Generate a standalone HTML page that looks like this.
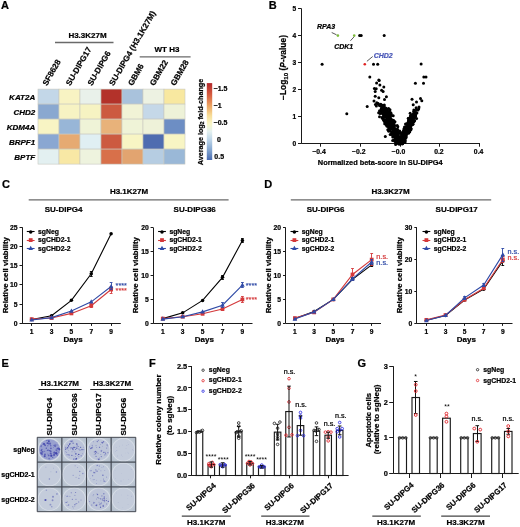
<!DOCTYPE html>
<html><head><meta charset="utf-8"><title>Figure</title>
<style>html,body{margin:0;padding:0;background:#fff;}svg{display:block;}</style></head>
<body><svg width="520" height="527" viewBox="0 0 520 527" font-family='"Liberation Sans", Arial, sans-serif' font-weight="bold"><style>text{stroke-width:0.22px;}</style>
<rect width="520" height="527" fill="#fff"/>
<text x="1" y="8.7" font-size="11" fill="#000" stroke="#000">A</text>
<text x="87.5" y="38.2" font-size="8" text-anchor="middle" fill="#000" stroke="#000">H3.3K27M</text>
<line x1="55" y1="42.5" x2="113.5" y2="42.5" stroke="#6a6a6a" stroke-width="1.3"/>
<text x="167" y="51.7" font-size="8" text-anchor="middle" fill="#000" stroke="#000">WT H3</text>
<line x1="139.7" y1="56.8" x2="190.6" y2="56.8" stroke="#6a6a6a" stroke-width="1.3"/>
<text x="46.9" y="86.2" font-size="8.1" fill="#000" stroke="#000" transform="rotate(-60 46.9 86.2)">SF8628</text>
<text x="70.3" y="86.2" font-size="8.1" fill="#000" stroke="#000" transform="rotate(-60 70.3 86.2)">SU-DIPG17</text>
<text x="91.9" y="86.2" font-size="8.1" fill="#000" stroke="#000" transform="rotate(-60 91.9 86.2)">SU-DIPG6</text>
<text x="113.6" y="86.2" font-size="8.1" fill="#000" stroke="#000" transform="rotate(-60 113.6 86.2)">SU-DIPG4 (H3.1K27M)</text>
<text x="132.4" y="86.2" font-size="8.1" fill="#000" stroke="#000" transform="rotate(-60 132.4 86.2)">GBM6</text>
<text x="154.3" y="86.2" font-size="8.1" fill="#000" stroke="#000" transform="rotate(-60 154.3 86.2)">GBM22</text>
<text x="175.1" y="86.2" font-size="8.1" fill="#000" stroke="#000" transform="rotate(-60 175.1 86.2)">GBM28</text>
<rect x="38" y="89.1" width="21" height="15" fill="#c3d7e8" stroke="#c8c8c0" stroke-width="0.6"/>
<rect x="59" y="89.1" width="21" height="15" fill="#f8f3c3" stroke="#c8c8c0" stroke-width="0.6"/>
<rect x="80" y="89.1" width="21" height="15" fill="#e9f1ea" stroke="#c8c8c0" stroke-width="0.6"/>
<rect x="101" y="89.1" width="21" height="15" fill="#b3322a" stroke="#c8c8c0" stroke-width="0.6"/>
<rect x="122" y="89.1" width="21" height="15" fill="#a9c2dc" stroke="#c8c8c0" stroke-width="0.6"/>
<rect x="143" y="89.1" width="21" height="15" fill="#edf2e2" stroke="#c8c8c0" stroke-width="0.6"/>
<rect x="164" y="89.1" width="21" height="15" fill="#f8e8a0" stroke="#c8c8c0" stroke-width="0.6"/>
<text x="35.2" y="99.5" font-size="8" text-anchor="end" font-style="italic" fill="#000" stroke="#000">KAT2A</text>
<rect x="38" y="104.1" width="21" height="15" fill="#8aa8d0" stroke="#c8c8c0" stroke-width="0.6"/>
<rect x="59" y="104.1" width="21" height="15" fill="#f7f3c3" stroke="#c8c8c0" stroke-width="0.6"/>
<rect x="80" y="104.1" width="21" height="15" fill="#f6f3c2" stroke="#c8c8c0" stroke-width="0.6"/>
<rect x="101" y="104.1" width="21" height="15" fill="#cc5a40" stroke="#c8c8c0" stroke-width="0.6"/>
<rect x="122" y="104.1" width="21" height="15" fill="#f1f3d6" stroke="#c8c8c0" stroke-width="0.6"/>
<rect x="143" y="104.1" width="21" height="15" fill="#c5d8e8" stroke="#c8c8c0" stroke-width="0.6"/>
<rect x="164" y="104.1" width="21" height="15" fill="#eef2d8" stroke="#c8c8c0" stroke-width="0.6"/>
<text x="35.2" y="114.5" font-size="8" text-anchor="end" font-style="italic" fill="#000" stroke="#000">CHD2</text>
<rect x="38" y="119.1" width="21" height="15" fill="#f8f4c4" stroke="#c8c8c0" stroke-width="0.6"/>
<rect x="59" y="119.1" width="21" height="15" fill="#98b6d7" stroke="#c8c8c0" stroke-width="0.6"/>
<rect x="80" y="119.1" width="21" height="15" fill="#eff3d7" stroke="#c8c8c0" stroke-width="0.6"/>
<rect x="101" y="119.1" width="21" height="15" fill="#e8b27a" stroke="#c8c8c0" stroke-width="0.6"/>
<rect x="122" y="119.1" width="21" height="15" fill="#eff3d7" stroke="#c8c8c0" stroke-width="0.6"/>
<rect x="143" y="119.1" width="21" height="15" fill="#eef2d9" stroke="#c8c8c0" stroke-width="0.6"/>
<rect x="164" y="119.1" width="21" height="15" fill="#6d8ec4" stroke="#c8c8c0" stroke-width="0.6"/>
<text x="35.2" y="129.5" font-size="8" text-anchor="end" font-style="italic" fill="#000" stroke="#000">KDM4A</text>
<rect x="38" y="134.1" width="21" height="15" fill="#8aa7d2" stroke="#c8c8c0" stroke-width="0.6"/>
<rect x="59" y="134.1" width="21" height="15" fill="#e6aa72" stroke="#c8c8c0" stroke-width="0.6"/>
<rect x="80" y="134.1" width="21" height="15" fill="#e0eff3" stroke="#c8c8c0" stroke-width="0.6"/>
<rect x="101" y="134.1" width="21" height="15" fill="#cc5a40" stroke="#c8c8c0" stroke-width="0.6"/>
<rect x="122" y="134.1" width="21" height="15" fill="#f8f5c4" stroke="#c8c8c0" stroke-width="0.6"/>
<rect x="143" y="134.1" width="21" height="15" fill="#4e6cb0" stroke="#c8c8c0" stroke-width="0.6"/>
<rect x="164" y="134.1" width="21" height="15" fill="#f8f5c4" stroke="#c8c8c0" stroke-width="0.6"/>
<text x="35.2" y="144.5" font-size="8" text-anchor="end" font-style="italic" fill="#000" stroke="#000">BRPF1</text>
<rect x="38" y="149.1" width="21" height="15" fill="#e3f0f1" stroke="#c8c8c0" stroke-width="0.6"/>
<rect x="59" y="149.1" width="21" height="15" fill="#f8e8a5" stroke="#c8c8c0" stroke-width="0.6"/>
<rect x="80" y="149.1" width="21" height="15" fill="#eef3de" stroke="#c8c8c0" stroke-width="0.6"/>
<rect x="101" y="149.1" width="21" height="15" fill="#d8704a" stroke="#c8c8c0" stroke-width="0.6"/>
<rect x="122" y="149.1" width="21" height="15" fill="#e2a470" stroke="#c8c8c0" stroke-width="0.6"/>
<rect x="143" y="149.1" width="21" height="15" fill="#b6cde2" stroke="#c8c8c0" stroke-width="0.6"/>
<rect x="164" y="149.1" width="21" height="15" fill="#9ab8d7" stroke="#c8c8c0" stroke-width="0.6"/>
<text x="35.2" y="159.5" font-size="8" text-anchor="end" font-style="italic" fill="#000" stroke="#000">BPTF</text>
<defs><linearGradient id="cb" x1="0" y1="0" x2="0" y2="1"><stop offset="0" stop-color="#b2282c"/><stop offset="0.15" stop-color="#d65c40"/><stop offset="0.3" stop-color="#eca664"/><stop offset="0.42" stop-color="#f7dc96"/><stop offset="0.53" stop-color="#f8f6c8"/><stop offset="0.63" stop-color="#e4f1f0"/><stop offset="0.74" stop-color="#bcd4e8"/><stop offset="0.87" stop-color="#84a6d0"/><stop offset="1" stop-color="#4a6cb2"/></linearGradient></defs>
<rect x="206.8" y="83.1" width="5.4" height="76.9" fill="url(#cb)"/>
<text x="213.6" y="90.5" font-size="7" fill="#000" stroke="#000">−1.5</text>
<text x="213.6" y="107.5" font-size="7" fill="#000" stroke="#000">−1</text>
<text x="213.6" y="124.9" font-size="7" fill="#000" stroke="#000">−0.5</text>
<text x="217" y="141.5" font-size="7" fill="#000" stroke="#000">0</text>
<text x="214.3" y="158.5" font-size="7" fill="#000" stroke="#000">0.5</text>
<text x="202.6" y="122" font-size="7.2" text-anchor="middle" fill="#000" stroke="#000" transform="rotate(-90 202.6 122)">Average log<tspan font-size="5" dy="1.6">2</tspan><tspan dy="-1.6"> fold-change</tspan></text>
<text x="268.8" y="8.7" font-size="11" fill="#000" stroke="#000">B</text>
<line x1="301.5" y1="8.5" x2="301.5" y2="143.7" stroke="#1a1a1a" stroke-width="1"/>
<line x1="301.5" y1="143.5" x2="480" y2="143.5" stroke="#1a1a1a" stroke-width="1"/>
<line x1="298" y1="143.5" x2="301.5" y2="143.5" stroke="#1a1a1a" stroke-width="1"/>
<text x="296.2" y="146" font-size="6.6" text-anchor="end" fill="#000" stroke="#000">0</text>
<line x1="298" y1="116.5" x2="301.5" y2="116.5" stroke="#1a1a1a" stroke-width="1"/>
<text x="296.2" y="119" font-size="6.6" text-anchor="end" fill="#000" stroke="#000">1</text>
<line x1="298" y1="89.5" x2="301.5" y2="89.5" stroke="#1a1a1a" stroke-width="1"/>
<text x="296.2" y="92" font-size="6.6" text-anchor="end" fill="#000" stroke="#000">2</text>
<line x1="298" y1="62.5" x2="301.5" y2="62.5" stroke="#1a1a1a" stroke-width="1"/>
<text x="296.2" y="65" font-size="6.6" text-anchor="end" fill="#000" stroke="#000">3</text>
<line x1="298" y1="35.5" x2="301.5" y2="35.5" stroke="#1a1a1a" stroke-width="1"/>
<text x="296.2" y="38" font-size="6.6" text-anchor="end" fill="#000" stroke="#000">4</text>
<line x1="298" y1="8.5" x2="301.5" y2="8.5" stroke="#1a1a1a" stroke-width="1"/>
<text x="296.2" y="11" font-size="6.6" text-anchor="end" fill="#000" stroke="#000">5</text>
<line x1="320.5" y1="143.7" x2="320.5" y2="146.7" stroke="#1a1a1a" stroke-width="1"/>
<text x="319.1" y="154.2" font-size="6.8" text-anchor="middle" fill="#000" stroke="#000">−0.4</text>
<line x1="360.5" y1="143.7" x2="360.5" y2="146.7" stroke="#1a1a1a" stroke-width="1"/>
<text x="358.8" y="154.2" font-size="6.8" text-anchor="middle" fill="#000" stroke="#000">−0.2</text>
<line x1="400.5" y1="143.7" x2="400.5" y2="146.7" stroke="#1a1a1a" stroke-width="1"/>
<text x="398.5" y="154.2" font-size="6.8" text-anchor="middle" fill="#000" stroke="#000">−0.0</text>
<line x1="439.5" y1="143.7" x2="439.5" y2="146.7" stroke="#1a1a1a" stroke-width="1"/>
<text x="438.9" y="154.2" font-size="6.8" text-anchor="middle" fill="#000" stroke="#000">0.2</text>
<line x1="479.5" y1="143.7" x2="479.5" y2="146.7" stroke="#1a1a1a" stroke-width="1"/>
<text x="478.6" y="154.2" font-size="6.8" text-anchor="middle" fill="#000" stroke="#000">0.4</text>
<text x="380.3" y="165.4" font-size="7.4" text-anchor="middle" fill="#000" stroke="#000">Normalized beta-score in SU-DIPG4</text>
<text x="285.7" y="67.5" font-size="8.4" text-anchor="middle" fill="#000" stroke="#000" transform="rotate(-90 285.7 67.5)">−Log<tspan font-size="6.2" dy="2">10</tspan><tspan dy="-2"> (</tspan><tspan font-style="italic">P</tspan>-value)</text>
<g fill="#000"><circle cx="322.1" cy="64.2" r="1.5"/><circle cx="359.6" cy="35.6" r="1.5"/><circle cx="361.2" cy="35.6" r="1.5"/><circle cx="384.2" cy="35.6" r="1.5"/><circle cx="373.5" cy="64.2" r="1.5"/><circle cx="377.7" cy="64.2" r="1.5"/><circle cx="369.8" cy="77.1" r="1.5"/><circle cx="378.8" cy="80" r="1.5"/><circle cx="346.8" cy="113.8" r="1.5"/><circle cx="367.2" cy="106.4" r="1.5"/><circle cx="421.1" cy="64" r="1.5"/><circle cx="423.8" cy="77" r="1.5"/><circle cx="426" cy="77" r="1.5"/><circle cx="415.4" cy="83.2" r="1.5"/><circle cx="423.5" cy="83.2" r="1.5"/><circle cx="412" cy="99.3" r="1.5"/><circle cx="416.5" cy="102" r="1.5"/><circle cx="413.2" cy="104.7" r="1.5"/><circle cx="420.5" cy="98.4" r="1.5"/><circle cx="421.8" cy="100.7" r="1.5"/><circle cx="419" cy="107" r="1.5"/><circle cx="418.7" cy="108.8" r="1.5"/><circle cx="379.2" cy="80.4" r="1.5"/><circle cx="376.6" cy="83" r="1.5"/><circle cx="379.9" cy="85.1" r="1.5"/><circle cx="383.8" cy="87" r="1.5"/><circle cx="374.4" cy="88.5" r="1.5"/><circle cx="376.2" cy="88.8" r="1.5"/><circle cx="375.2" cy="91.4" r="1.5"/><circle cx="381.6" cy="90.2" r="1.5"/><circle cx="383.1" cy="91.4" r="1.5"/><circle cx="375.2" cy="96.3" r="1.5"/><circle cx="386.4" cy="96.7" r="1.5"/><circle cx="378.8" cy="97.7" r="1.5"/><circle cx="384.5" cy="99.6" r="1.5"/><circle cx="374" cy="101" r="1.5"/><circle cx="385.3" cy="136.4" r="1.5"/><circle cx="393.6" cy="127.51" r="1.5"/><circle cx="392.66" cy="140.5" r="1.5"/><circle cx="399.96" cy="141.44" r="1.5"/><circle cx="383.54" cy="110.56" r="1.5"/><circle cx="395.69" cy="133.72" r="1.5"/><circle cx="379.52" cy="105.58" r="1.5"/><circle cx="388.62" cy="108.57" r="1.5"/><circle cx="398.69" cy="142.5" r="1.5"/><circle cx="395.16" cy="130.07" r="1.5"/><circle cx="381" cy="106.36" r="1.5"/><circle cx="389.75" cy="112.72" r="1.5"/><circle cx="385.57" cy="113.27" r="1.5"/><circle cx="385.29" cy="114.12" r="1.5"/><circle cx="396.26" cy="137.44" r="1.5"/><circle cx="387.34" cy="115.41" r="1.5"/><circle cx="399.18" cy="142.31" r="1.5"/><circle cx="397.38" cy="140.9" r="1.5"/><circle cx="397.42" cy="134.31" r="1.5"/><circle cx="401.68" cy="134.49" r="1.5"/><circle cx="387.63" cy="115.16" r="1.5"/><circle cx="383.48" cy="114.41" r="1.5"/><circle cx="382.08" cy="106.98" r="1.5"/><circle cx="393.9" cy="130.75" r="1.5"/><circle cx="390.67" cy="122.93" r="1.5"/><circle cx="388.53" cy="125.4" r="1.5"/><circle cx="399.22" cy="140.26" r="1.5"/><circle cx="396.25" cy="136.97" r="1.5"/><circle cx="390.17" cy="134.49" r="1.5"/><circle cx="390.94" cy="113.19" r="1.5"/><circle cx="388.09" cy="119.96" r="1.5"/><circle cx="387.33" cy="120.67" r="1.5"/><circle cx="400.33" cy="143.64" r="1.5"/><circle cx="391.12" cy="122.06" r="1.5"/><circle cx="398.6" cy="138.44" r="1.5"/><circle cx="393.39" cy="133.82" r="1.5"/><circle cx="390.32" cy="130.83" r="1.5"/><circle cx="393.8" cy="133.93" r="1.5"/><circle cx="397.17" cy="125.4" r="1.5"/><circle cx="379.5" cy="110.83" r="1.5"/><circle cx="397.07" cy="135.17" r="1.5"/><circle cx="391.95" cy="132.78" r="1.5"/><circle cx="397.32" cy="130.68" r="1.5"/><circle cx="392.32" cy="123.08" r="1.5"/><circle cx="393.52" cy="121" r="1.5"/><circle cx="395.1" cy="132.2" r="1.5"/><circle cx="383.39" cy="118.55" r="1.5"/><circle cx="393.7" cy="127.77" r="1.5"/><circle cx="392.79" cy="128.65" r="1.5"/><circle cx="390.23" cy="127.04" r="1.5"/><circle cx="383.11" cy="107.02" r="1.5"/><circle cx="385.34" cy="119.89" r="1.5"/><circle cx="396.01" cy="139.58" r="1.5"/><circle cx="389.04" cy="111.74" r="1.5"/><circle cx="389.69" cy="115.15" r="1.5"/><circle cx="397.87" cy="135.77" r="1.5"/><circle cx="386.93" cy="125.15" r="1.5"/><circle cx="391.64" cy="126.11" r="1.5"/><circle cx="390.54" cy="124.25" r="1.5"/><circle cx="390.06" cy="127.18" r="1.5"/><circle cx="388.9" cy="116.9" r="1.5"/><circle cx="394.38" cy="125.91" r="1.5"/><circle cx="388.58" cy="121.36" r="1.5"/><circle cx="389.01" cy="118.65" r="1.5"/><circle cx="384.69" cy="123.72" r="1.5"/><circle cx="395.51" cy="134.88" r="1.5"/><circle cx="386.88" cy="112.52" r="1.5"/><circle cx="392.34" cy="128.51" r="1.5"/><circle cx="383.86" cy="112.68" r="1.5"/><circle cx="382.56" cy="113" r="1.5"/><circle cx="391.72" cy="125.49" r="1.5"/><circle cx="391.04" cy="119.19" r="1.5"/><circle cx="393.6" cy="134.23" r="1.5"/><circle cx="388.61" cy="130.88" r="1.5"/><circle cx="387.59" cy="116.57" r="1.5"/><circle cx="390.35" cy="112.93" r="1.5"/><circle cx="389.98" cy="119.1" r="1.5"/><circle cx="395.15" cy="140.02" r="1.5"/><circle cx="386.33" cy="114.32" r="1.5"/><circle cx="396.92" cy="135.98" r="1.5"/><circle cx="397.5" cy="129.3" r="1.5"/><circle cx="399.27" cy="143.46" r="1.5"/><circle cx="398.35" cy="141.44" r="1.5"/><circle cx="386.55" cy="117.45" r="1.5"/><circle cx="385.98" cy="115.84" r="1.5"/><circle cx="391.88" cy="125.02" r="1.5"/><circle cx="384.46" cy="113.49" r="1.5"/><circle cx="402.6" cy="140.85" r="1.5"/><circle cx="393.44" cy="128.09" r="1.5"/><circle cx="390.08" cy="123.9" r="1.5"/><circle cx="398.01" cy="132.46" r="1.5"/><circle cx="383.93" cy="110.19" r="1.5"/><circle cx="391.05" cy="128.85" r="1.5"/><circle cx="378.05" cy="104.01" r="1.5"/><circle cx="387.51" cy="121.24" r="1.5"/><circle cx="399.29" cy="142.43" r="1.5"/><circle cx="394.13" cy="128.66" r="1.5"/><circle cx="392.12" cy="127.44" r="1.5"/><circle cx="388.81" cy="114.58" r="1.5"/><circle cx="397.68" cy="136.91" r="1.5"/><circle cx="386.68" cy="122.62" r="1.5"/><circle cx="395.24" cy="132.08" r="1.5"/><circle cx="389.18" cy="120.3" r="1.5"/><circle cx="386.19" cy="120.38" r="1.5"/><circle cx="378.15" cy="103.53" r="1.5"/><circle cx="387.82" cy="115.88" r="1.5"/><circle cx="383.8" cy="111.59" r="1.5"/><circle cx="389.98" cy="109.81" r="1.5"/><circle cx="400.05" cy="141.45" r="1.5"/><circle cx="391.79" cy="120.24" r="1.5"/><circle cx="395.64" cy="129.11" r="1.5"/><circle cx="383.52" cy="108.33" r="1.5"/><circle cx="400.33" cy="142.6" r="1.5"/><circle cx="387.92" cy="119.92" r="1.5"/><circle cx="394.9" cy="141.27" r="1.5"/><circle cx="403.12" cy="142.8" r="1.5"/><circle cx="401.06" cy="143.36" r="1.5"/><circle cx="380.84" cy="104.2" r="1.5"/><circle cx="384.94" cy="117.09" r="1.5"/><circle cx="389.31" cy="116.93" r="1.5"/><circle cx="391.33" cy="123.73" r="1.5"/><circle cx="400.44" cy="137.61" r="1.5"/><circle cx="391.11" cy="125.08" r="1.5"/><circle cx="393.45" cy="132.18" r="1.5"/><circle cx="386.5" cy="109.24" r="1.5"/><circle cx="397.23" cy="135.66" r="1.5"/><circle cx="391.68" cy="124.65" r="1.5"/><circle cx="394.39" cy="130.53" r="1.5"/><circle cx="387.85" cy="113.54" r="1.5"/><circle cx="398.29" cy="139.31" r="1.5"/><circle cx="393.23" cy="136.39" r="1.5"/><circle cx="393.96" cy="131.76" r="1.5"/><circle cx="384.32" cy="104.9" r="1.5"/><circle cx="384.41" cy="111.5" r="1.5"/><circle cx="391.41" cy="123.76" r="1.5"/><circle cx="395.98" cy="137.68" r="1.5"/><circle cx="384.92" cy="115.04" r="1.5"/><circle cx="390.84" cy="125.54" r="1.5"/><circle cx="386.61" cy="119.71" r="1.5"/><circle cx="395.91" cy="140.54" r="1.5"/><circle cx="399.97" cy="141.73" r="1.5"/><circle cx="392.37" cy="125.49" r="1.5"/><circle cx="397.3" cy="143.11" r="1.5"/><circle cx="387.16" cy="120.68" r="1.5"/><circle cx="387.56" cy="115.08" r="1.5"/><circle cx="391.89" cy="115.57" r="1.5"/><circle cx="391.2" cy="126.58" r="1.5"/><circle cx="398.28" cy="136.03" r="1.5"/><circle cx="394.54" cy="131.08" r="1.5"/><circle cx="394.01" cy="135.12" r="1.5"/><circle cx="391.61" cy="134.53" r="1.5"/><circle cx="390.58" cy="122.05" r="1.5"/><circle cx="389.46" cy="116.78" r="1.5"/><circle cx="389.74" cy="117.49" r="1.5"/><circle cx="387.79" cy="129.68" r="1.5"/><circle cx="384.76" cy="115.39" r="1.5"/><circle cx="376.8" cy="102.79" r="1.5"/><circle cx="390.42" cy="125.84" r="1.5"/><circle cx="382.48" cy="111.21" r="1.5"/><circle cx="400" cy="133.25" r="1.5"/><circle cx="395.53" cy="136.94" r="1.5"/><circle cx="385.02" cy="109.36" r="1.5"/><circle cx="388.88" cy="123.11" r="1.5"/><circle cx="383.03" cy="117.35" r="1.5"/><circle cx="387.03" cy="126.33" r="1.5"/><circle cx="392.96" cy="130.62" r="1.5"/><circle cx="381.25" cy="108.69" r="1.5"/><circle cx="393.67" cy="127.51" r="1.5"/><circle cx="387.05" cy="109.58" r="1.5"/><circle cx="396.41" cy="136.36" r="1.5"/><circle cx="386.88" cy="122.79" r="1.5"/><circle cx="386.82" cy="111.43" r="1.5"/><circle cx="391.08" cy="125.98" r="1.5"/><circle cx="389.65" cy="125.43" r="1.5"/><circle cx="384.4" cy="121.62" r="1.5"/><circle cx="381.48" cy="113.35" r="1.5"/><circle cx="389.22" cy="130.48" r="1.5"/><circle cx="383.52" cy="106" r="1.5"/><circle cx="397.87" cy="133.61" r="1.5"/><circle cx="401.66" cy="135.42" r="1.5"/><circle cx="396.57" cy="141.97" r="1.5"/><circle cx="384.41" cy="115.66" r="1.5"/><circle cx="382.39" cy="117.29" r="1.5"/><circle cx="379.53" cy="116.7" r="1.5"/><circle cx="394.45" cy="131.14" r="1.5"/><circle cx="388.17" cy="120.67" r="1.5"/><circle cx="378.65" cy="112.67" r="1.5"/><circle cx="395.2" cy="135.03" r="1.5"/><circle cx="392.09" cy="122.51" r="1.5"/><circle cx="395.67" cy="142.83" r="1.5"/><circle cx="390.84" cy="114.74" r="1.5"/><circle cx="397.15" cy="133.53" r="1.5"/><circle cx="386.91" cy="116" r="1.5"/><circle cx="389.97" cy="119.74" r="1.5"/><circle cx="394.46" cy="129.54" r="1.5"/><circle cx="383.05" cy="117.46" r="1.5"/><circle cx="393.77" cy="127.65" r="1.5"/><circle cx="390.34" cy="117.74" r="1.5"/><circle cx="395.62" cy="144.43" r="1.5"/><circle cx="389.55" cy="118.19" r="1.5"/><circle cx="384.73" cy="111.3" r="1.5"/><circle cx="394.28" cy="128.65" r="1.5"/><circle cx="389.6" cy="116.92" r="1.5"/><circle cx="386.23" cy="108.36" r="1.5"/><circle cx="376.38" cy="106.07" r="1.5"/><circle cx="399.95" cy="140.94" r="1.5"/><circle cx="397.39" cy="133.38" r="1.5"/><circle cx="400.36" cy="143.06" r="1.5"/><circle cx="387.33" cy="116.16" r="1.5"/><circle cx="391.16" cy="125.1" r="1.5"/><circle cx="393.79" cy="123.33" r="1.5"/><circle cx="393.8" cy="120.81" r="1.5"/><circle cx="389.52" cy="122.29" r="1.5"/><circle cx="385.09" cy="115.07" r="1.5"/><circle cx="401.36" cy="140.69" r="1.5"/><circle cx="399.67" cy="131" r="1.5"/><circle cx="392.41" cy="132.13" r="1.5"/><circle cx="394.02" cy="140.21" r="1.5"/><circle cx="384.34" cy="115.2" r="1.5"/><circle cx="384.52" cy="108.54" r="1.5"/><circle cx="385.09" cy="111.56" r="1.5"/><circle cx="396.36" cy="132.35" r="1.5"/><circle cx="388.81" cy="127.2" r="1.5"/><circle cx="398.97" cy="138.07" r="1.5"/><circle cx="389.48" cy="123.93" r="1.5"/><circle cx="397.12" cy="136.28" r="1.5"/><circle cx="391.06" cy="126.37" r="1.5"/><circle cx="402.51" cy="141.24" r="1.5"/><circle cx="394.01" cy="128.64" r="1.5"/><circle cx="397.12" cy="136.8" r="1.5"/><circle cx="387.3" cy="122.41" r="1.5"/><circle cx="381.3" cy="106.06" r="1.5"/><circle cx="397.83" cy="126.77" r="1.5"/><circle cx="388.53" cy="129.65" r="1.5"/><circle cx="381.97" cy="111.46" r="1.5"/><circle cx="396.77" cy="139.9" r="1.5"/><circle cx="394.68" cy="136.23" r="1.5"/><circle cx="386.24" cy="111.19" r="1.5"/><circle cx="391" cy="127.55" r="1.5"/><circle cx="398.15" cy="134.17" r="1.5"/><circle cx="393.28" cy="125.99" r="1.5"/><circle cx="386.31" cy="116.48" r="1.5"/><circle cx="383.51" cy="113.63" r="1.5"/><circle cx="394.76" cy="131.16" r="1.5"/><circle cx="395.22" cy="134.69" r="1.5"/><circle cx="381.93" cy="109.1" r="1.5"/><circle cx="388.48" cy="122.8" r="1.5"/><circle cx="388.57" cy="120.29" r="1.5"/><circle cx="388.73" cy="123.38" r="1.5"/><circle cx="388.57" cy="124.03" r="1.5"/><circle cx="399.3" cy="140.52" r="1.5"/><circle cx="399.71" cy="139.95" r="1.5"/><circle cx="385" cy="120.74" r="1.5"/><circle cx="389.83" cy="124.75" r="1.5"/><circle cx="393.3" cy="120.56" r="1.5"/><circle cx="379.76" cy="104.99" r="1.5"/><circle cx="396.54" cy="143.49" r="1.5"/><circle cx="393.89" cy="126.6" r="1.5"/><circle cx="394.52" cy="125.15" r="1.5"/><circle cx="383.69" cy="114.92" r="1.5"/><circle cx="396.25" cy="140.22" r="1.5"/><circle cx="395.41" cy="139.1" r="1.5"/><circle cx="396.31" cy="132.59" r="1.5"/><circle cx="401.2" cy="141.4" r="1.5"/><circle cx="394.01" cy="136.58" r="1.5"/><circle cx="393.74" cy="132.42" r="1.5"/><circle cx="392.17" cy="133.28" r="1.5"/><circle cx="391.34" cy="123.89" r="1.5"/><circle cx="398.39" cy="137.84" r="1.5"/><circle cx="391.42" cy="128.2" r="1.5"/><circle cx="389.41" cy="125.38" r="1.5"/><circle cx="387.42" cy="118.97" r="1.5"/><circle cx="392.79" cy="133.44" r="1.5"/><circle cx="397.4" cy="137.23" r="1.5"/><circle cx="387.95" cy="118.98" r="1.5"/><circle cx="391.02" cy="122.87" r="1.5"/><circle cx="392.78" cy="136.91" r="1.5"/><circle cx="402.38" cy="137.96" r="1.5"/><circle cx="384.06" cy="108.27" r="1.5"/><circle cx="383.96" cy="113.39" r="1.5"/><circle cx="399.05" cy="138.96" r="1.5"/><circle cx="386.4" cy="117.36" r="1.5"/><circle cx="395.65" cy="134.09" r="1.5"/><circle cx="397.16" cy="130.24" r="1.5"/><circle cx="382.26" cy="118.21" r="1.5"/><circle cx="396.27" cy="138.57" r="1.5"/><circle cx="395.94" cy="133.78" r="1.5"/><circle cx="399.82" cy="136.73" r="1.5"/><circle cx="382.85" cy="105.31" r="1.5"/><circle cx="375.46" cy="104.57" r="1.5"/><circle cx="383.43" cy="113.51" r="1.5"/><circle cx="384.23" cy="106.5" r="1.5"/><circle cx="390.11" cy="120.7" r="1.5"/><circle cx="396.99" cy="140.3" r="1.5"/><circle cx="387.39" cy="118.77" r="1.5"/><circle cx="388.5" cy="112.28" r="1.5"/><circle cx="394.25" cy="128.61" r="1.5"/><circle cx="392.47" cy="132.33" r="1.5"/><circle cx="390.71" cy="112.82" r="1.5"/><circle cx="385.55" cy="122.75" r="1.5"/><circle cx="383.36" cy="119.97" r="1.5"/><circle cx="388.84" cy="111.57" r="1.5"/><circle cx="387.04" cy="112.18" r="1.5"/><circle cx="400.74" cy="141.47" r="1.5"/><circle cx="389.86" cy="120.48" r="1.5"/><circle cx="380.01" cy="113.57" r="1.5"/><circle cx="385.48" cy="109.37" r="1.5"/><circle cx="394.89" cy="136.49" r="1.5"/><circle cx="393.37" cy="125.04" r="1.5"/><circle cx="390.44" cy="126.8" r="1.5"/><circle cx="398.36" cy="138.45" r="1.5"/><circle cx="392.74" cy="126.63" r="1.5"/><circle cx="397.42" cy="132.6" r="1.5"/><circle cx="388.19" cy="111.76" r="1.5"/><circle cx="386.54" cy="114.29" r="1.5"/><circle cx="393.69" cy="137.09" r="1.5"/><circle cx="384.67" cy="120.77" r="1.5"/><circle cx="393.22" cy="115.86" r="1.5"/><circle cx="395.22" cy="137.19" r="1.5"/><circle cx="393.01" cy="132.37" r="1.5"/><circle cx="387.82" cy="117.7" r="1.5"/><circle cx="380.98" cy="110.81" r="1.5"/><circle cx="386.63" cy="112.63" r="1.5"/><circle cx="389.4" cy="128.83" r="1.5"/><circle cx="398.2" cy="139.36" r="1.5"/><circle cx="389.6" cy="114.03" r="1.5"/><circle cx="394.95" cy="121.76" r="1.5"/><circle cx="400.07" cy="142.95" r="1.5"/><circle cx="382.46" cy="105.51" r="1.5"/><circle cx="386.81" cy="113.97" r="1.5"/><circle cx="395.19" cy="132.84" r="1.5"/><circle cx="396.63" cy="133.81" r="1.5"/><circle cx="391" cy="121.12" r="1.5"/><circle cx="396.65" cy="137.8" r="1.5"/><circle cx="385.97" cy="124.38" r="1.5"/><circle cx="384.82" cy="111.61" r="1.5"/><circle cx="389.78" cy="115.87" r="1.5"/><circle cx="395.08" cy="136.62" r="1.5"/><circle cx="384.16" cy="114.04" r="1.5"/><circle cx="396.06" cy="134.78" r="1.5"/><circle cx="384.22" cy="109.41" r="1.5"/><circle cx="382.18" cy="109.4" r="1.5"/><circle cx="391.78" cy="132.52" r="1.5"/><circle cx="388.93" cy="131.02" r="1.5"/><circle cx="393.93" cy="129.87" r="1.5"/><circle cx="392.45" cy="120.04" r="1.5"/><circle cx="391.35" cy="121.05" r="1.5"/><circle cx="381.97" cy="112.72" r="1.5"/><circle cx="382.37" cy="112.04" r="1.5"/><circle cx="389.29" cy="127.82" r="1.5"/><circle cx="386.47" cy="112.34" r="1.5"/><circle cx="395.99" cy="140.14" r="1.5"/><circle cx="415.02" cy="116.61" r="1.5"/><circle cx="411.76" cy="115.99" r="1.5"/><circle cx="405.8" cy="133.44" r="1.5"/><circle cx="404.48" cy="135.29" r="1.5"/><circle cx="406.37" cy="131.39" r="1.5"/><circle cx="408.96" cy="120.49" r="1.5"/><circle cx="404.15" cy="133.14" r="1.5"/><circle cx="412.8" cy="115.07" r="1.5"/><circle cx="412.89" cy="114.65" r="1.5"/><circle cx="401.54" cy="133.38" r="1.5"/><circle cx="409.48" cy="127.31" r="1.5"/><circle cx="408.51" cy="133.31" r="1.5"/><circle cx="410.65" cy="126.94" r="1.5"/><circle cx="410.87" cy="129.78" r="1.5"/><circle cx="401.74" cy="141.02" r="1.5"/><circle cx="408.71" cy="118.84" r="1.5"/><circle cx="402.84" cy="139.44" r="1.5"/><circle cx="408.19" cy="124.21" r="1.5"/><circle cx="399.99" cy="142.45" r="1.5"/><circle cx="401.35" cy="140.98" r="1.5"/><circle cx="409.79" cy="131.84" r="1.5"/><circle cx="409.67" cy="123.52" r="1.5"/><circle cx="416.12" cy="110.32" r="1.5"/><circle cx="404.1" cy="134.95" r="1.5"/><circle cx="408.48" cy="129.44" r="1.5"/><circle cx="411.26" cy="125.43" r="1.5"/><circle cx="413" cy="122.75" r="1.5"/><circle cx="403.77" cy="139.67" r="1.5"/><circle cx="410.26" cy="121.83" r="1.5"/><circle cx="401.14" cy="142.98" r="1.5"/><circle cx="408.3" cy="118.15" r="1.5"/><circle cx="405.1" cy="140.27" r="1.5"/><circle cx="409.02" cy="125.56" r="1.5"/><circle cx="400.95" cy="141.71" r="1.5"/><circle cx="413.72" cy="121.75" r="1.5"/><circle cx="398.87" cy="144.09" r="1.5"/><circle cx="408.78" cy="125.39" r="1.5"/><circle cx="409.89" cy="121.08" r="1.5"/><circle cx="410.33" cy="117.57" r="1.5"/><circle cx="404.29" cy="138.86" r="1.5"/><circle cx="408.69" cy="128.23" r="1.5"/><circle cx="404.09" cy="141.99" r="1.5"/><circle cx="408.68" cy="128.23" r="1.5"/><circle cx="416.93" cy="112.88" r="1.5"/><circle cx="402.31" cy="136.33" r="1.5"/><circle cx="404.55" cy="139.47" r="1.5"/><circle cx="410.74" cy="118.67" r="1.5"/><circle cx="403.62" cy="141.7" r="1.5"/><circle cx="403.38" cy="139.97" r="1.5"/><circle cx="412.24" cy="119.23" r="1.5"/><circle cx="412.47" cy="120.06" r="1.5"/><circle cx="402.12" cy="141.43" r="1.5"/><circle cx="398.86" cy="139.09" r="1.5"/><circle cx="403.86" cy="134.36" r="1.5"/><circle cx="408.91" cy="121.93" r="1.5"/><circle cx="417.99" cy="110.1" r="1.5"/><circle cx="409.16" cy="122.01" r="1.5"/><circle cx="412.92" cy="124.17" r="1.5"/><circle cx="406.99" cy="123.61" r="1.5"/><circle cx="410.47" cy="119.64" r="1.5"/><circle cx="412.16" cy="124.5" r="1.5"/><circle cx="403.15" cy="142.13" r="1.5"/><circle cx="403.95" cy="128.65" r="1.5"/><circle cx="414.05" cy="113.58" r="1.5"/><circle cx="412.16" cy="117.92" r="1.5"/><circle cx="409.38" cy="119.84" r="1.5"/><circle cx="403.51" cy="130.94" r="1.5"/><circle cx="410" cy="128.92" r="1.5"/><circle cx="410.26" cy="129.27" r="1.5"/><circle cx="415.63" cy="116.04" r="1.5"/><circle cx="408.29" cy="127.07" r="1.5"/><circle cx="410.88" cy="128.54" r="1.5"/><circle cx="401.1" cy="143.41" r="1.5"/><circle cx="410.02" cy="123.45" r="1.5"/><circle cx="399.62" cy="142.6" r="1.5"/><circle cx="408.03" cy="126.36" r="1.5"/><circle cx="405.13" cy="133.33" r="1.5"/><circle cx="404.32" cy="136.55" r="1.5"/><circle cx="403.3" cy="135.06" r="1.5"/><circle cx="408.51" cy="132.81" r="1.5"/><circle cx="408.19" cy="128.03" r="1.5"/><circle cx="404.2" cy="133.46" r="1.5"/><circle cx="408.07" cy="127.33" r="1.5"/><circle cx="406.33" cy="128.84" r="1.5"/><circle cx="410.46" cy="116" r="1.5"/><circle cx="410.05" cy="120.02" r="1.5"/><circle cx="409.83" cy="118.71" r="1.5"/><circle cx="406.72" cy="131.86" r="1.5"/><circle cx="403.22" cy="138.25" r="1.5"/><circle cx="405.77" cy="136.87" r="1.5"/><circle cx="406.47" cy="130.2" r="1.5"/><circle cx="410.63" cy="121.22" r="1.5"/><circle cx="413.94" cy="112.09" r="1.5"/><circle cx="408.68" cy="124.78" r="1.5"/><circle cx="402.51" cy="143.83" r="1.5"/><circle cx="402.8" cy="140.04" r="1.5"/><circle cx="411.09" cy="128.66" r="1.5"/><circle cx="402.62" cy="142.5" r="1.5"/><circle cx="416.13" cy="107.67" r="1.5"/><circle cx="415.13" cy="115.99" r="1.5"/><circle cx="413.16" cy="118.08" r="1.5"/><circle cx="403.09" cy="136.38" r="1.5"/><circle cx="413.84" cy="110.11" r="1.5"/><circle cx="405.83" cy="138.12" r="1.5"/><circle cx="404.5" cy="132.18" r="1.5"/><circle cx="403.58" cy="134.9" r="1.5"/><circle cx="402.53" cy="141.22" r="1.5"/><circle cx="401.91" cy="143.76" r="1.5"/><circle cx="412.19" cy="120.92" r="1.5"/><circle cx="413.04" cy="116.44" r="1.5"/><circle cx="411.77" cy="121.83" r="1.5"/><circle cx="402.08" cy="140.6" r="1.5"/><circle cx="402.18" cy="143.67" r="1.5"/><circle cx="402.31" cy="142.7" r="1.5"/><circle cx="414.89" cy="115.08" r="1.5"/><circle cx="406.03" cy="131.4" r="1.5"/><circle cx="414.36" cy="115.42" r="1.5"/><circle cx="404.72" cy="139.05" r="1.5"/><circle cx="409.24" cy="123.89" r="1.5"/><circle cx="409.04" cy="127.02" r="1.5"/><circle cx="404.2" cy="132.32" r="1.5"/><circle cx="410.9" cy="115.61" r="1.5"/><circle cx="411.79" cy="124.31" r="1.5"/><circle cx="402.09" cy="132.52" r="1.5"/><circle cx="405.49" cy="124.02" r="1.5"/><circle cx="407.82" cy="126.95" r="1.5"/><circle cx="404.64" cy="142.45" r="1.5"/><circle cx="403.47" cy="142.52" r="1.5"/><circle cx="409.49" cy="126.73" r="1.5"/><circle cx="414.98" cy="115.13" r="1.5"/><circle cx="409.33" cy="130.98" r="1.5"/><circle cx="403.99" cy="133.63" r="1.5"/><circle cx="403.5" cy="141.03" r="1.5"/><circle cx="407.93" cy="130.32" r="1.5"/><circle cx="415.67" cy="114.71" r="1.5"/><circle cx="412.42" cy="123.18" r="1.5"/><circle cx="410.3" cy="118.67" r="1.5"/><circle cx="408.65" cy="121.37" r="1.5"/><circle cx="404.86" cy="128.76" r="1.5"/><circle cx="406.6" cy="126.75" r="1.5"/><circle cx="409.64" cy="123" r="1.5"/><circle cx="410" cy="118.26" r="1.5"/><circle cx="408.03" cy="124.06" r="1.5"/><circle cx="400.85" cy="139.58" r="1.5"/><circle cx="412.5" cy="115.76" r="1.5"/><circle cx="411.45" cy="115.5" r="1.5"/><circle cx="402.29" cy="141.95" r="1.5"/><circle cx="406.46" cy="134.65" r="1.5"/><circle cx="414.14" cy="121.18" r="1.5"/><circle cx="404.28" cy="140.25" r="1.5"/><circle cx="415.62" cy="112.4" r="1.5"/><circle cx="405.16" cy="141.69" r="1.5"/><circle cx="405.79" cy="135.66" r="1.5"/><circle cx="406.59" cy="129.6" r="1.5"/><circle cx="401.99" cy="142.71" r="1.5"/><circle cx="413.78" cy="111.58" r="1.5"/><circle cx="402.98" cy="135.61" r="1.5"/><circle cx="407.91" cy="124.61" r="1.5"/><circle cx="402.15" cy="142.13" r="1.5"/><circle cx="404.43" cy="132.01" r="1.5"/><circle cx="414.6" cy="120.52" r="1.5"/><circle cx="404.53" cy="139.02" r="1.5"/><circle cx="409.92" cy="121.25" r="1.5"/><circle cx="410.1" cy="128.15" r="1.5"/><circle cx="400.25" cy="143.5" r="1.5"/><circle cx="404.49" cy="127" r="1.5"/><circle cx="411.66" cy="116.22" r="1.5"/><circle cx="408.7" cy="119.88" r="1.5"/><circle cx="406.25" cy="136.92" r="1.5"/><circle cx="416.58" cy="118.42" r="1.5"/><circle cx="399.38" cy="138.11" r="1.5"/><circle cx="409.99" cy="124.45" r="1.5"/><circle cx="414.24" cy="117.98" r="1.5"/><circle cx="406.67" cy="131.91" r="1.5"/><circle cx="408.65" cy="122.4" r="1.5"/><circle cx="405.43" cy="132.54" r="1.5"/><circle cx="402.73" cy="142.16" r="1.5"/><circle cx="412.96" cy="117.28" r="1.5"/><circle cx="404.81" cy="133.78" r="1.5"/><circle cx="408.85" cy="126.03" r="1.5"/><circle cx="405.8" cy="133.48" r="1.5"/><circle cx="404.66" cy="135.34" r="1.5"/><circle cx="401.03" cy="136.82" r="1.5"/><circle cx="404.7" cy="134.68" r="1.5"/><circle cx="414.23" cy="117.77" r="1.5"/><circle cx="403.07" cy="139.64" r="1.5"/><circle cx="409.75" cy="127.69" r="1.5"/><circle cx="410.48" cy="125.37" r="1.5"/><circle cx="409.09" cy="128.98" r="1.5"/><circle cx="404.89" cy="135" r="1.5"/><circle cx="409.29" cy="118.39" r="1.5"/><circle cx="399.51" cy="143.91" r="1.5"/><circle cx="407.75" cy="129.85" r="1.5"/><circle cx="402.58" cy="139.34" r="1.5"/><circle cx="406.53" cy="124.29" r="1.5"/><circle cx="403.37" cy="141.99" r="1.5"/><circle cx="403.87" cy="130.35" r="1.5"/><circle cx="406.16" cy="129.12" r="1.5"/><circle cx="405.88" cy="126.79" r="1.5"/><circle cx="413.44" cy="116.67" r="1.5"/><circle cx="406.62" cy="132.2" r="1.5"/><circle cx="401.67" cy="139.58" r="1.5"/><circle cx="402.74" cy="142.64" r="1.5"/><circle cx="406.6" cy="130.72" r="1.5"/><circle cx="407.29" cy="126.71" r="1.5"/><circle cx="402.89" cy="140.59" r="1.5"/><circle cx="409.85" cy="118.87" r="1.5"/><circle cx="412.7" cy="114.45" r="1.5"/><circle cx="402.4" cy="143.48" r="1.5"/><circle cx="408.37" cy="121.42" r="1.5"/><circle cx="409.91" cy="126.38" r="1.5"/><circle cx="406.67" cy="133.55" r="1.5"/><circle cx="413.92" cy="117.67" r="1.5"/><circle cx="401.17" cy="139.04" r="1.5"/><circle cx="410.14" cy="113.3" r="1.5"/><circle cx="412.71" cy="124.23" r="1.5"/><circle cx="403.82" cy="136.45" r="1.5"/><circle cx="406.99" cy="131.45" r="1.5"/><circle cx="403.53" cy="142.36" r="1.5"/></g>
<circle cx="337.9" cy="35.6" r="1.3" fill="#7dbb3c"/>
<circle cx="354.2" cy="35.6" r="1.3" fill="#7dbb3c"/>
<circle cx="364.8" cy="64.2" r="1.3" fill="#e02020"/>
<line x1="331.7" y1="32.5" x2="336.5" y2="34.8" stroke="#111" stroke-width="0.7"/>
<line x1="350.4" y1="40.8" x2="354" y2="36.9" stroke="#111" stroke-width="0.7"/>
<line x1="366.9" y1="61.3" x2="372.7" y2="56.5" stroke="#111" stroke-width="0.7"/>
<text x="317" y="29.2" font-size="7" font-style="italic" fill="#000" stroke="#000">RPA3</text>
<text x="334.2" y="48.5" font-size="7" font-style="italic" fill="#000" stroke="#000">CDK1</text>
<text x="373.7" y="57.7" font-size="7" font-style="italic" fill="#4a58b8" stroke="#4a58b8">CHD2</text>
<text x="2" y="188" font-size="11" fill="#000" stroke="#000">C</text>
<text x="264.2" y="188" font-size="11" fill="#000" stroke="#000">D</text>
<line x1="28.7" y1="199.8" x2="228.6" y2="199.8" stroke="#6a6a6a" stroke-width="1.3"/>
<text x="129" y="193.75" font-size="8" text-anchor="middle" fill="#000" stroke="#000">H3.1K27M</text>
<line x1="290.8" y1="199.8" x2="491.2" y2="199.8" stroke="#6a6a6a" stroke-width="1.3"/>
<text x="390.5" y="193.75" font-size="8" text-anchor="middle" fill="#000" stroke="#000">H3.3K27M</text>
<text x="63.6" y="212.1" font-size="8" text-anchor="middle" fill="#000" stroke="#000">SU-DIPG4</text>
<text x="194.7" y="212.4" font-size="8" text-anchor="middle" fill="#000" stroke="#000">SU-DIPG36</text>
<text x="325.6" y="212.4" font-size="8" text-anchor="middle" fill="#000" stroke="#000">SU-DIPG6</text>
<text x="456.7" y="212.4" font-size="8" text-anchor="middle" fill="#000" stroke="#000">SU-DIPG17</text>
<line x1="22.5" y1="227.2" x2="22.5" y2="323.4" stroke="#1a1a1a" stroke-width="1"/>
<line x1="22.1" y1="323.5" x2="120.8" y2="323.5" stroke="#1a1a1a" stroke-width="1"/>
<line x1="19.5" y1="323.5" x2="22.1" y2="323.5" stroke="#1a1a1a" stroke-width="1"/>
<text x="17.6" y="325.8" font-size="6.8" text-anchor="end" fill="#000" stroke="#000">0</text>
<line x1="19.5" y1="304.5" x2="22.1" y2="304.5" stroke="#1a1a1a" stroke-width="1"/>
<text x="17.6" y="306.56" font-size="6.8" text-anchor="end" fill="#000" stroke="#000">5</text>
<line x1="19.5" y1="284.5" x2="22.1" y2="284.5" stroke="#1a1a1a" stroke-width="1"/>
<text x="17.6" y="287.32" font-size="6.8" text-anchor="end" fill="#000" stroke="#000">10</text>
<line x1="19.5" y1="265.5" x2="22.1" y2="265.5" stroke="#1a1a1a" stroke-width="1"/>
<text x="17.6" y="268.08" font-size="6.8" text-anchor="end" fill="#000" stroke="#000">15</text>
<line x1="19.5" y1="246.5" x2="22.1" y2="246.5" stroke="#1a1a1a" stroke-width="1"/>
<text x="17.6" y="248.84" font-size="6.8" text-anchor="end" fill="#000" stroke="#000">20</text>
<line x1="19.5" y1="227.5" x2="22.1" y2="227.5" stroke="#1a1a1a" stroke-width="1"/>
<text x="17.6" y="229.6" font-size="6.8" text-anchor="end" fill="#000" stroke="#000">25</text>
<line x1="31.5" y1="323.4" x2="31.5" y2="325.9" stroke="#1a1a1a" stroke-width="1"/>
<text x="31.7" y="334.4" font-size="6.6" text-anchor="middle" fill="#000" stroke="#000">1</text>
<line x1="51.5" y1="323.4" x2="51.5" y2="325.9" stroke="#1a1a1a" stroke-width="1"/>
<text x="51.55" y="334.4" font-size="6.6" text-anchor="middle" fill="#000" stroke="#000">3</text>
<line x1="71.5" y1="323.4" x2="71.5" y2="325.9" stroke="#1a1a1a" stroke-width="1"/>
<text x="71.4" y="334.4" font-size="6.6" text-anchor="middle" fill="#000" stroke="#000">5</text>
<line x1="91.5" y1="323.4" x2="91.5" y2="325.9" stroke="#1a1a1a" stroke-width="1"/>
<text x="91.25" y="334.4" font-size="6.6" text-anchor="middle" fill="#000" stroke="#000">7</text>
<line x1="111.5" y1="323.4" x2="111.5" y2="325.9" stroke="#1a1a1a" stroke-width="1"/>
<text x="111.1" y="334.4" font-size="6.6" text-anchor="middle" fill="#000" stroke="#000">9</text>
<text x="73.1" y="341.9" font-size="8" text-anchor="middle" fill="#000" stroke="#000">Days</text>
<text x="7.6" y="275.2" font-size="7.8" text-anchor="middle" fill="#000" stroke="#000" transform="rotate(-90 7.6 275.2)">Relative cell viability</text>
<polyline points="31.7,319.55 51.55,315.7 71.4,300.31 91.25,273.76 111.1,233.74" fill="none" stroke="#000" stroke-width="1.1"/>
<line x1="91.5" y1="271.45" x2="91.5" y2="276.07" stroke="#000" stroke-width="0.9"/>
<line x1="89.85" y1="271.5" x2="92.65" y2="271.5" stroke="#000" stroke-width="0.9"/>
<line x1="89.85" y1="276.5" x2="92.65" y2="276.5" stroke="#000" stroke-width="0.9"/>
<circle cx="31.7" cy="319.55" r="1.75" fill="#000"/>
<circle cx="51.55" cy="315.7" r="1.75" fill="#000"/>
<circle cx="71.4" cy="300.31" r="1.75" fill="#000"/>
<circle cx="91.25" cy="273.76" r="1.75" fill="#000"/>
<circle cx="111.1" cy="233.74" r="1.75" fill="#000"/>
<polyline points="31.7,319.17 51.55,318.01 71.4,313.4 91.25,305.7 111.1,289.54" fill="none" stroke="#d4383a" stroke-width="1.1"/>
<line x1="91.5" y1="303.78" x2="91.5" y2="307.62" stroke="#d4383a" stroke-width="0.9"/>
<line x1="89.85" y1="303.5" x2="92.65" y2="303.5" stroke="#d4383a" stroke-width="0.9"/>
<line x1="89.85" y1="307.5" x2="92.65" y2="307.5" stroke="#d4383a" stroke-width="0.9"/>
<line x1="111.5" y1="286.07" x2="111.5" y2="293" stroke="#d4383a" stroke-width="0.9"/>
<line x1="109.7" y1="286.5" x2="112.5" y2="286.5" stroke="#d4383a" stroke-width="0.9"/>
<line x1="109.7" y1="293.5" x2="112.5" y2="293.5" stroke="#d4383a" stroke-width="0.9"/>
<rect x="29.8" y="317.27" width="3.8" height="3.8" fill="#d4383a"/>
<rect x="49.65" y="316.11" width="3.8" height="3.8" fill="#d4383a"/>
<rect x="69.5" y="311.5" width="3.8" height="3.8" fill="#d4383a"/>
<rect x="89.35" y="303.8" width="3.8" height="3.8" fill="#d4383a"/>
<rect x="109.2" y="287.64" width="3.8" height="3.8" fill="#d4383a"/>
<polyline points="31.7,319.94 51.55,317.63 71.4,311.09 91.25,301.85 111.1,286.46" fill="none" stroke="#2f4aa6" stroke-width="1.1"/>
<line x1="111.5" y1="283" x2="111.5" y2="289.92" stroke="#2f4aa6" stroke-width="0.9"/>
<line x1="109.7" y1="282.5" x2="112.5" y2="282.5" stroke="#2f4aa6" stroke-width="0.9"/>
<line x1="109.7" y1="289.5" x2="112.5" y2="289.5" stroke="#2f4aa6" stroke-width="0.9"/>
<polygon points="31.7,317.42 29.39,321.62 34.01,321.62" fill="#2f4aa6"/>
<polygon points="51.55,315.11 49.24,319.31 53.86,319.31" fill="#2f4aa6"/>
<polygon points="71.4,308.57 69.09,312.77 73.71,312.77" fill="#2f4aa6"/>
<polygon points="91.25,299.33 88.94,303.53 93.56,303.53" fill="#2f4aa6"/>
<polygon points="111.1,283.94 108.79,288.14 113.41,288.14" fill="#2f4aa6"/>
<line x1="26.8" y1="231.5" x2="34.6" y2="231.5" stroke="#000" stroke-width="1.1"/>
<circle cx="30.7" cy="231.9" r="1.75" fill="#000"/>
<text x="38.1" y="234.2" font-size="6.8" fill="#000" stroke="#000">sgNeg</text>
<line x1="26.8" y1="240.5" x2="34.6" y2="240.5" stroke="#d4383a" stroke-width="1.1"/>
<rect x="28.8" y="238.2" width="3.8" height="3.8" fill="#d4383a"/>
<text x="38.1" y="242.4" font-size="6.8" fill="#000" stroke="#000">sgCHD2-1</text>
<line x1="26.8" y1="248.5" x2="34.6" y2="248.5" stroke="#2f4aa6" stroke-width="1.1"/>
<polygon points="30.7,245.78 28.39,249.98 33.01,249.98" fill="#2f4aa6"/>
<text x="38.1" y="250.6" font-size="6.8" fill="#000" stroke="#000">sgCHD2-2</text>
<line x1="153.5" y1="227.5" x2="153.5" y2="323.4" stroke="#1a1a1a" stroke-width="1"/>
<line x1="153.2" y1="323.5" x2="252.5" y2="323.5" stroke="#1a1a1a" stroke-width="1"/>
<line x1="150.6" y1="323.5" x2="153.2" y2="323.5" stroke="#1a1a1a" stroke-width="1"/>
<text x="148.7" y="325.8" font-size="6.8" text-anchor="end" fill="#000" stroke="#000">0</text>
<line x1="150.6" y1="299.5" x2="153.2" y2="299.5" stroke="#1a1a1a" stroke-width="1"/>
<text x="148.7" y="301.82" font-size="6.8" text-anchor="end" fill="#000" stroke="#000">5</text>
<line x1="150.6" y1="275.5" x2="153.2" y2="275.5" stroke="#1a1a1a" stroke-width="1"/>
<text x="148.7" y="277.85" font-size="6.8" text-anchor="end" fill="#000" stroke="#000">10</text>
<line x1="150.6" y1="251.5" x2="153.2" y2="251.5" stroke="#1a1a1a" stroke-width="1"/>
<text x="148.7" y="253.87" font-size="6.8" text-anchor="end" fill="#000" stroke="#000">15</text>
<line x1="150.6" y1="227.5" x2="153.2" y2="227.5" stroke="#1a1a1a" stroke-width="1"/>
<text x="148.7" y="229.9" font-size="6.8" text-anchor="end" fill="#000" stroke="#000">20</text>
<line x1="162.5" y1="323.4" x2="162.5" y2="325.9" stroke="#1a1a1a" stroke-width="1"/>
<text x="162.8" y="334.4" font-size="6.6" text-anchor="middle" fill="#000" stroke="#000">1</text>
<line x1="182.5" y1="323.4" x2="182.5" y2="325.9" stroke="#1a1a1a" stroke-width="1"/>
<text x="182.7" y="334.4" font-size="6.6" text-anchor="middle" fill="#000" stroke="#000">3</text>
<line x1="202.5" y1="323.4" x2="202.5" y2="325.9" stroke="#1a1a1a" stroke-width="1"/>
<text x="202.6" y="334.4" font-size="6.6" text-anchor="middle" fill="#000" stroke="#000">5</text>
<line x1="222.5" y1="323.4" x2="222.5" y2="325.9" stroke="#1a1a1a" stroke-width="1"/>
<text x="222.5" y="334.4" font-size="6.6" text-anchor="middle" fill="#000" stroke="#000">7</text>
<line x1="242.5" y1="323.4" x2="242.5" y2="325.9" stroke="#1a1a1a" stroke-width="1"/>
<text x="242.4" y="334.4" font-size="6.6" text-anchor="middle" fill="#000" stroke="#000">9</text>
<text x="204.3" y="341.9" font-size="8" text-anchor="middle" fill="#000" stroke="#000">Days</text>
<text x="138" y="275.2" font-size="7.8" text-anchor="middle" fill="#000" stroke="#000" transform="rotate(-90 138 275.2)">Relative cell viability</text>
<polyline points="162.8,318.6 182.7,312.85 202.6,300.38 222.5,277.37 242.4,240.45" fill="none" stroke="#000" stroke-width="1.1"/>
<line x1="222.5" y1="275.45" x2="222.5" y2="279.29" stroke="#000" stroke-width="0.9"/>
<line x1="221.1" y1="275.5" x2="223.9" y2="275.5" stroke="#000" stroke-width="0.9"/>
<line x1="221.1" y1="279.5" x2="223.9" y2="279.5" stroke="#000" stroke-width="0.9"/>
<line x1="242.5" y1="238.53" x2="242.5" y2="242.36" stroke="#000" stroke-width="0.9"/>
<line x1="241" y1="238.5" x2="243.8" y2="238.5" stroke="#000" stroke-width="0.9"/>
<line x1="241" y1="242.5" x2="243.8" y2="242.5" stroke="#000" stroke-width="0.9"/>
<circle cx="162.8" cy="318.6" r="1.75" fill="#000"/>
<circle cx="182.7" cy="312.85" r="1.75" fill="#000"/>
<circle cx="202.6" cy="300.38" r="1.75" fill="#000"/>
<circle cx="222.5" cy="277.37" r="1.75" fill="#000"/>
<circle cx="242.4" cy="240.45" r="1.75" fill="#000"/>
<polyline points="162.8,318.6 182.7,316.69 202.6,313.81 222.5,309.01 242.4,299.42" fill="none" stroke="#d4383a" stroke-width="1.1"/>
<line x1="222.5" y1="307.58" x2="222.5" y2="310.45" stroke="#d4383a" stroke-width="0.9"/>
<line x1="221.1" y1="307.5" x2="223.9" y2="307.5" stroke="#d4383a" stroke-width="0.9"/>
<line x1="221.1" y1="310.5" x2="223.9" y2="310.5" stroke="#d4383a" stroke-width="0.9"/>
<line x1="242.5" y1="296.55" x2="242.5" y2="302.3" stroke="#d4383a" stroke-width="0.9"/>
<line x1="241" y1="296.5" x2="243.8" y2="296.5" stroke="#d4383a" stroke-width="0.9"/>
<line x1="241" y1="302.5" x2="243.8" y2="302.5" stroke="#d4383a" stroke-width="0.9"/>
<rect x="160.9" y="316.7" width="3.8" height="3.8" fill="#d4383a"/>
<rect x="180.8" y="314.79" width="3.8" height="3.8" fill="#d4383a"/>
<rect x="200.7" y="311.91" width="3.8" height="3.8" fill="#d4383a"/>
<rect x="220.6" y="307.12" width="3.8" height="3.8" fill="#d4383a"/>
<rect x="240.5" y="297.52" width="3.8" height="3.8" fill="#d4383a"/>
<polyline points="162.8,319.08 182.7,316.69 202.6,311.89 222.5,305.18 242.4,285.04" fill="none" stroke="#2f4aa6" stroke-width="1.1"/>
<line x1="222.5" y1="302.78" x2="222.5" y2="307.58" stroke="#2f4aa6" stroke-width="0.9"/>
<line x1="221.1" y1="302.5" x2="223.9" y2="302.5" stroke="#2f4aa6" stroke-width="0.9"/>
<line x1="221.1" y1="307.5" x2="223.9" y2="307.5" stroke="#2f4aa6" stroke-width="0.9"/>
<line x1="242.5" y1="282.64" x2="242.5" y2="287.44" stroke="#2f4aa6" stroke-width="0.9"/>
<line x1="241" y1="282.5" x2="243.8" y2="282.5" stroke="#2f4aa6" stroke-width="0.9"/>
<line x1="241" y1="287.5" x2="243.8" y2="287.5" stroke="#2f4aa6" stroke-width="0.9"/>
<polygon points="162.8,316.56 160.49,320.76 165.11,320.76" fill="#2f4aa6"/>
<polygon points="182.7,314.17 180.39,318.37 185.01,318.37" fill="#2f4aa6"/>
<polygon points="202.6,309.37 200.29,313.57 204.91,313.57" fill="#2f4aa6"/>
<polygon points="222.5,302.66 220.19,306.86 224.81,306.86" fill="#2f4aa6"/>
<polygon points="242.4,282.52 240.09,286.72 244.71,286.72" fill="#2f4aa6"/>
<line x1="158.1" y1="231.5" x2="165.9" y2="231.5" stroke="#000" stroke-width="1.1"/>
<circle cx="162" cy="231.9" r="1.75" fill="#000"/>
<text x="169.4" y="234.2" font-size="6.8" fill="#000" stroke="#000">sgNeg</text>
<line x1="158.1" y1="240.5" x2="165.9" y2="240.5" stroke="#d4383a" stroke-width="1.1"/>
<rect x="160.1" y="238.2" width="3.8" height="3.8" fill="#d4383a"/>
<text x="169.4" y="242.4" font-size="6.8" fill="#000" stroke="#000">sgCHD2-1</text>
<line x1="158.1" y1="248.5" x2="165.9" y2="248.5" stroke="#2f4aa6" stroke-width="1.1"/>
<polygon points="162,245.78 159.69,249.98 164.31,249.98" fill="#2f4aa6"/>
<text x="169.4" y="250.6" font-size="6.8" fill="#000" stroke="#000">sgCHD2-2</text>
<line x1="285.5" y1="227.5" x2="285.5" y2="323.4" stroke="#1a1a1a" stroke-width="1"/>
<line x1="285.6" y1="323.5" x2="381" y2="323.5" stroke="#1a1a1a" stroke-width="1"/>
<line x1="283" y1="323.5" x2="285.6" y2="323.5" stroke="#1a1a1a" stroke-width="1"/>
<text x="281.1" y="325.8" font-size="6.8" text-anchor="end" fill="#000" stroke="#000">0</text>
<line x1="283" y1="299.5" x2="285.6" y2="299.5" stroke="#1a1a1a" stroke-width="1"/>
<text x="281.1" y="301.82" font-size="6.8" text-anchor="end" fill="#000" stroke="#000">5</text>
<line x1="283" y1="275.5" x2="285.6" y2="275.5" stroke="#1a1a1a" stroke-width="1"/>
<text x="281.1" y="277.85" font-size="6.8" text-anchor="end" fill="#000" stroke="#000">10</text>
<line x1="283" y1="251.5" x2="285.6" y2="251.5" stroke="#1a1a1a" stroke-width="1"/>
<text x="281.1" y="253.87" font-size="6.8" text-anchor="end" fill="#000" stroke="#000">15</text>
<line x1="283" y1="227.5" x2="285.6" y2="227.5" stroke="#1a1a1a" stroke-width="1"/>
<text x="281.1" y="229.9" font-size="6.8" text-anchor="end" fill="#000" stroke="#000">20</text>
<line x1="294.5" y1="323.4" x2="294.5" y2="325.9" stroke="#1a1a1a" stroke-width="1"/>
<text x="294.9" y="334.4" font-size="6.6" text-anchor="middle" fill="#000" stroke="#000">1</text>
<line x1="314.5" y1="323.4" x2="314.5" y2="325.9" stroke="#1a1a1a" stroke-width="1"/>
<text x="314.1" y="334.4" font-size="6.6" text-anchor="middle" fill="#000" stroke="#000">3</text>
<line x1="333.5" y1="323.4" x2="333.5" y2="325.9" stroke="#1a1a1a" stroke-width="1"/>
<text x="333.3" y="334.4" font-size="6.6" text-anchor="middle" fill="#000" stroke="#000">5</text>
<line x1="352.5" y1="323.4" x2="352.5" y2="325.9" stroke="#1a1a1a" stroke-width="1"/>
<text x="352.5" y="334.4" font-size="6.6" text-anchor="middle" fill="#000" stroke="#000">7</text>
<line x1="371.5" y1="323.4" x2="371.5" y2="325.9" stroke="#1a1a1a" stroke-width="1"/>
<text x="371.7" y="334.4" font-size="6.6" text-anchor="middle" fill="#000" stroke="#000">9</text>
<text x="335" y="341.9" font-size="8" text-anchor="middle" fill="#000" stroke="#000">Days</text>
<text x="270.7" y="275.2" font-size="7.8" text-anchor="middle" fill="#000" stroke="#000" transform="rotate(-90 270.7 275.2)">Relative cell viability</text>
<polyline points="294.9,318.6 314.1,311.41 333.3,299.42 352.5,279.29 371.7,264.9" fill="none" stroke="#000" stroke-width="1.1"/>
<line x1="352.5" y1="277.85" x2="352.5" y2="280.72" stroke="#000" stroke-width="0.9"/>
<line x1="351.1" y1="277.5" x2="353.9" y2="277.5" stroke="#000" stroke-width="0.9"/>
<line x1="351.1" y1="280.5" x2="353.9" y2="280.5" stroke="#000" stroke-width="0.9"/>
<line x1="371.5" y1="262.98" x2="371.5" y2="266.82" stroke="#000" stroke-width="0.9"/>
<line x1="370.3" y1="262.5" x2="373.1" y2="262.5" stroke="#000" stroke-width="0.9"/>
<line x1="370.3" y1="266.5" x2="373.1" y2="266.5" stroke="#000" stroke-width="0.9"/>
<circle cx="294.9" cy="318.6" r="1.75" fill="#000"/>
<circle cx="314.1" cy="311.41" r="1.75" fill="#000"/>
<circle cx="333.3" cy="299.42" r="1.75" fill="#000"/>
<circle cx="352.5" cy="279.29" r="1.75" fill="#000"/>
<circle cx="371.7" cy="264.9" r="1.75" fill="#000"/>
<polyline points="294.9,318.13 314.1,312.37 333.3,299.42 352.5,274.49 371.7,259.63" fill="none" stroke="#d4383a" stroke-width="1.1"/>
<line x1="352.5" y1="268.74" x2="352.5" y2="280.25" stroke="#d4383a" stroke-width="0.9"/>
<line x1="351.1" y1="268.5" x2="353.9" y2="268.5" stroke="#d4383a" stroke-width="0.9"/>
<line x1="351.1" y1="280.5" x2="353.9" y2="280.5" stroke="#d4383a" stroke-width="0.9"/>
<line x1="371.5" y1="253.39" x2="371.5" y2="265.86" stroke="#d4383a" stroke-width="0.9"/>
<line x1="370.3" y1="253.5" x2="373.1" y2="253.5" stroke="#d4383a" stroke-width="0.9"/>
<line x1="370.3" y1="265.5" x2="373.1" y2="265.5" stroke="#d4383a" stroke-width="0.9"/>
<rect x="293" y="316.23" width="3.8" height="3.8" fill="#d4383a"/>
<rect x="312.2" y="310.47" width="3.8" height="3.8" fill="#d4383a"/>
<rect x="331.4" y="297.52" width="3.8" height="3.8" fill="#d4383a"/>
<rect x="350.6" y="272.59" width="3.8" height="3.8" fill="#d4383a"/>
<rect x="369.8" y="257.73" width="3.8" height="3.8" fill="#d4383a"/>
<polyline points="294.9,319.08 314.1,311.89 333.3,299.42 352.5,278.81 371.7,262.02" fill="none" stroke="#2f4aa6" stroke-width="1.1"/>
<line x1="352.5" y1="277.37" x2="352.5" y2="280.24" stroke="#2f4aa6" stroke-width="0.9"/>
<line x1="351.1" y1="277.5" x2="353.9" y2="277.5" stroke="#2f4aa6" stroke-width="0.9"/>
<line x1="351.1" y1="280.5" x2="353.9" y2="280.5" stroke="#2f4aa6" stroke-width="0.9"/>
<line x1="371.5" y1="259.63" x2="371.5" y2="264.42" stroke="#2f4aa6" stroke-width="0.9"/>
<line x1="370.3" y1="259.5" x2="373.1" y2="259.5" stroke="#2f4aa6" stroke-width="0.9"/>
<line x1="370.3" y1="264.5" x2="373.1" y2="264.5" stroke="#2f4aa6" stroke-width="0.9"/>
<polygon points="294.9,316.56 292.59,320.76 297.21,320.76" fill="#2f4aa6"/>
<polygon points="314.1,309.37 311.79,313.57 316.41,313.57" fill="#2f4aa6"/>
<polygon points="333.3,296.9 330.99,301.1 335.61,301.1" fill="#2f4aa6"/>
<polygon points="352.5,276.29 350.19,280.49 354.81,280.49" fill="#2f4aa6"/>
<polygon points="371.7,259.5 369.39,263.7 374.01,263.7" fill="#2f4aa6"/>
<line x1="290.5" y1="231.5" x2="298.3" y2="231.5" stroke="#000" stroke-width="1.1"/>
<circle cx="294.4" cy="231.9" r="1.75" fill="#000"/>
<text x="301.8" y="234.2" font-size="6.8" fill="#000" stroke="#000">sgNeg</text>
<line x1="290.5" y1="240.5" x2="298.3" y2="240.5" stroke="#d4383a" stroke-width="1.1"/>
<rect x="292.5" y="238.2" width="3.8" height="3.8" fill="#d4383a"/>
<text x="301.8" y="242.4" font-size="6.8" fill="#000" stroke="#000">sgCHD2-1</text>
<line x1="290.5" y1="248.5" x2="298.3" y2="248.5" stroke="#2f4aa6" stroke-width="1.1"/>
<polygon points="294.4,245.78 292.09,249.98 296.71,249.98" fill="#2f4aa6"/>
<text x="301.8" y="250.6" font-size="6.8" fill="#000" stroke="#000">sgCHD2-2</text>
<line x1="416.5" y1="227.49" x2="416.5" y2="323.4" stroke="#1a1a1a" stroke-width="1"/>
<line x1="416.9" y1="323.5" x2="512.5" y2="323.5" stroke="#1a1a1a" stroke-width="1"/>
<line x1="414.3" y1="323.5" x2="416.9" y2="323.5" stroke="#1a1a1a" stroke-width="1"/>
<text x="412.4" y="325.8" font-size="6.8" text-anchor="end" fill="#000" stroke="#000">0</text>
<line x1="414.3" y1="291.5" x2="416.9" y2="291.5" stroke="#1a1a1a" stroke-width="1"/>
<text x="412.4" y="293.83" font-size="6.8" text-anchor="end" fill="#000" stroke="#000">10</text>
<line x1="414.3" y1="259.5" x2="416.9" y2="259.5" stroke="#1a1a1a" stroke-width="1"/>
<text x="412.4" y="261.86" font-size="6.8" text-anchor="end" fill="#000" stroke="#000">20</text>
<line x1="414.3" y1="227.5" x2="416.9" y2="227.5" stroke="#1a1a1a" stroke-width="1"/>
<text x="412.4" y="229.89" font-size="6.8" text-anchor="end" fill="#000" stroke="#000">30</text>
<line x1="426.5" y1="323.4" x2="426.5" y2="325.9" stroke="#1a1a1a" stroke-width="1"/>
<text x="426.4" y="334.4" font-size="6.6" text-anchor="middle" fill="#000" stroke="#000">1</text>
<line x1="445.5" y1="323.4" x2="445.5" y2="325.9" stroke="#1a1a1a" stroke-width="1"/>
<text x="445.5" y="334.4" font-size="6.6" text-anchor="middle" fill="#000" stroke="#000">3</text>
<line x1="464.5" y1="323.4" x2="464.5" y2="325.9" stroke="#1a1a1a" stroke-width="1"/>
<text x="464.6" y="334.4" font-size="6.6" text-anchor="middle" fill="#000" stroke="#000">5</text>
<line x1="483.5" y1="323.4" x2="483.5" y2="325.9" stroke="#1a1a1a" stroke-width="1"/>
<text x="483.7" y="334.4" font-size="6.6" text-anchor="middle" fill="#000" stroke="#000">7</text>
<line x1="502.5" y1="323.4" x2="502.5" y2="325.9" stroke="#1a1a1a" stroke-width="1"/>
<text x="502.8" y="334.4" font-size="6.6" text-anchor="middle" fill="#000" stroke="#000">9</text>
<text x="466.3" y="341.9" font-size="8" text-anchor="middle" fill="#000" stroke="#000">Days</text>
<text x="401.9" y="275.2" font-size="7.8" text-anchor="middle" fill="#000" stroke="#000" transform="rotate(-90 401.9 275.2)">Relative cell viability</text>
<polyline points="426.4,320.2 445.5,315.41 464.6,300.06 483.7,289.19 502.8,261.06" fill="none" stroke="#000" stroke-width="1.1"/>
<line x1="502.5" y1="256.26" x2="502.5" y2="265.85" stroke="#000" stroke-width="0.9"/>
<line x1="501.4" y1="256.5" x2="504.2" y2="256.5" stroke="#000" stroke-width="0.9"/>
<line x1="501.4" y1="265.5" x2="504.2" y2="265.5" stroke="#000" stroke-width="0.9"/>
<circle cx="426.4" cy="320.2" r="1.75" fill="#000"/>
<circle cx="445.5" cy="315.41" r="1.75" fill="#000"/>
<circle cx="464.6" cy="300.06" r="1.75" fill="#000"/>
<circle cx="483.7" cy="289.19" r="1.75" fill="#000"/>
<circle cx="502.8" cy="261.06" r="1.75" fill="#000"/>
<polyline points="426.4,319.88 445.5,315.09 464.6,299.74 483.7,288.23 502.8,259.46" fill="none" stroke="#d4383a" stroke-width="1.1"/>
<line x1="483.5" y1="286.95" x2="483.5" y2="289.51" stroke="#d4383a" stroke-width="0.9"/>
<line x1="482.3" y1="286.5" x2="485.1" y2="286.5" stroke="#d4383a" stroke-width="0.9"/>
<line x1="482.3" y1="289.5" x2="485.1" y2="289.5" stroke="#d4383a" stroke-width="0.9"/>
<line x1="502.5" y1="256.26" x2="502.5" y2="262.66" stroke="#d4383a" stroke-width="0.9"/>
<line x1="501.4" y1="256.5" x2="504.2" y2="256.5" stroke="#d4383a" stroke-width="0.9"/>
<line x1="501.4" y1="262.5" x2="504.2" y2="262.5" stroke="#d4383a" stroke-width="0.9"/>
<rect x="424.5" y="317.98" width="3.8" height="3.8" fill="#d4383a"/>
<rect x="443.6" y="313.19" width="3.8" height="3.8" fill="#d4383a"/>
<rect x="462.7" y="297.84" width="3.8" height="3.8" fill="#d4383a"/>
<rect x="481.8" y="286.33" width="3.8" height="3.8" fill="#d4383a"/>
<rect x="500.9" y="257.56" width="3.8" height="3.8" fill="#d4383a"/>
<polyline points="426.4,320.52 445.5,315.41 464.6,297.82 483.7,285.04 502.8,254.66" fill="none" stroke="#2f4aa6" stroke-width="1.1"/>
<line x1="464.5" y1="296.55" x2="464.5" y2="299.1" stroke="#2f4aa6" stroke-width="0.9"/>
<line x1="463.2" y1="296.5" x2="466" y2="296.5" stroke="#2f4aa6" stroke-width="0.9"/>
<line x1="463.2" y1="299.5" x2="466" y2="299.5" stroke="#2f4aa6" stroke-width="0.9"/>
<line x1="483.5" y1="283.76" x2="483.5" y2="286.31" stroke="#2f4aa6" stroke-width="0.9"/>
<line x1="482.3" y1="283.5" x2="485.1" y2="283.5" stroke="#2f4aa6" stroke-width="0.9"/>
<line x1="482.3" y1="286.5" x2="485.1" y2="286.5" stroke="#2f4aa6" stroke-width="0.9"/>
<line x1="502.5" y1="248.27" x2="502.5" y2="261.06" stroke="#2f4aa6" stroke-width="0.9"/>
<line x1="501.4" y1="248.5" x2="504.2" y2="248.5" stroke="#2f4aa6" stroke-width="0.9"/>
<line x1="501.4" y1="261.5" x2="504.2" y2="261.5" stroke="#2f4aa6" stroke-width="0.9"/>
<polygon points="426.4,318 424.09,322.2 428.71,322.2" fill="#2f4aa6"/>
<polygon points="445.5,312.89 443.19,317.09 447.81,317.09" fill="#2f4aa6"/>
<polygon points="464.6,295.3 462.29,299.5 466.91,299.5" fill="#2f4aa6"/>
<polygon points="483.7,282.52 481.39,286.72 486.01,286.72" fill="#2f4aa6"/>
<polygon points="502.8,252.14 500.49,256.34 505.11,256.34" fill="#2f4aa6"/>
<line x1="422.5" y1="231.5" x2="430.3" y2="231.5" stroke="#000" stroke-width="1.1"/>
<circle cx="426.4" cy="231.9" r="1.75" fill="#000"/>
<text x="433.8" y="234.2" font-size="6.8" fill="#000" stroke="#000">sgNeg</text>
<line x1="422.5" y1="240.5" x2="430.3" y2="240.5" stroke="#d4383a" stroke-width="1.1"/>
<rect x="424.5" y="238.2" width="3.8" height="3.8" fill="#d4383a"/>
<text x="433.8" y="242.4" font-size="6.8" fill="#000" stroke="#000">sgCHD2-1</text>
<line x1="422.5" y1="248.5" x2="430.3" y2="248.5" stroke="#2f4aa6" stroke-width="1.1"/>
<polygon points="426.4,245.78 424.09,249.98 428.71,249.98" fill="#2f4aa6"/>
<text x="433.8" y="250.6" font-size="6.8" fill="#000" stroke="#000">sgCHD2-2</text>
<text x="115.6" y="288.3" font-size="7.2" font-weight="normal" fill="#2f4aa6" stroke="#2f4aa6" style="stroke-width:0.15px">****</text>
<text x="115.6" y="293.4" font-size="7.2" font-weight="normal" fill="#d4383a" stroke="#d4383a" style="stroke-width:0.15px">****</text>
<text x="245.8" y="288" font-size="7.2" font-weight="normal" fill="#2f4aa6" stroke="#2f4aa6" style="stroke-width:0.15px">****</text>
<text x="245.8" y="302.3" font-size="7.2" font-weight="normal" fill="#d4383a" stroke="#d4383a" style="stroke-width:0.15px">****</text>
<text x="376.3" y="258.6" font-size="7.3" font-weight="normal" fill="#d4383a" stroke="#d4383a">n.s.</text>
<text x="376.3" y="265" font-size="7.3" font-weight="normal" fill="#2f4aa6" stroke="#2f4aa6">n.s.</text>
<text x="507.5" y="253.6" font-size="7.3" font-weight="normal" fill="#2f4aa6" stroke="#2f4aa6">n.s.</text>
<text x="507.5" y="260" font-size="7.3" font-weight="normal" fill="#d4383a" stroke="#d4383a">n.s.</text>
<text x="1.5" y="367" font-size="11" fill="#000" stroke="#000">E</text>
<text x="59.9" y="385.5" font-size="8" text-anchor="middle" fill="#000" stroke="#000">H3.1K27M</text>
<line x1="38.5" y1="389.5" x2="81.6" y2="389.5" stroke="#222" stroke-width="1.1"/>
<text x="112" y="385.5" font-size="8" text-anchor="middle" fill="#000" stroke="#000">H3.3K27M</text>
<line x1="90.2" y1="389.5" x2="133.3" y2="389.5" stroke="#222" stroke-width="1.1"/>
<text x="52.13" y="435.6" font-size="8" fill="#000" stroke="#000" transform="rotate(-90 52.13 435.6)">SU-DIPG4</text>
<text x="76.78" y="435.6" font-size="8" fill="#000" stroke="#000" transform="rotate(-90 76.78 435.6)">SU-DIPG36</text>
<text x="101.43" y="435.6" font-size="8" fill="#000" stroke="#000" transform="rotate(-90 101.43 435.6)">SU-DIPG17</text>
<text x="126.08" y="435.6" font-size="8" fill="#000" stroke="#000" transform="rotate(-90 126.08 435.6)">SU-DIPG6</text>
<text x="34.7" y="452.1" font-size="7" text-anchor="end" fill="#000" stroke="#000">sgNeg</text>
<text x="34.7" y="476.9" font-size="7" text-anchor="end" fill="#000" stroke="#000">sgCHD2-1</text>
<text x="34.7" y="501.7" font-size="7" text-anchor="end" fill="#000" stroke="#000">sgCHD2-2</text>
<rect x="37.2" y="437.3" width="98.6" height="74.4" fill="#7a8494"/>
<defs><radialGradient id="well" cx="0.5" cy="0.5" r="0.5"><stop offset="0.9" stop-color="#c4ccdb"/><stop offset="0.97" stop-color="#d6dce6"/><stop offset="1" stop-color="#e2e6ec"/></radialGradient><radialGradient id="cellbg" cx="0.5" cy="0.5" r="0.72"><stop offset="0.62" stop-color="#c2ccd8"/><stop offset="1" stop-color="#b0bbc9"/></radialGradient></defs>
<rect x="37.7" y="437.8" width="23.65" height="23.8" fill="url(#cellbg)"/>
<circle cx="49.53" cy="449.7" r="11.6" fill="url(#well)"/>
<circle cx="49.53" cy="449.7" r="10.5" fill="#6e76c4" opacity="0.5"/>
<g fill="#3c40aa"><circle cx="42.52" cy="451.86" r="1.03" opacity="0.6"/><circle cx="42.02" cy="449.33" r="0.54" opacity="0.62"/><circle cx="43.55" cy="443.34" r="0.48" opacity="0.51"/><circle cx="56.95" cy="454.46" r="0.88" opacity="0.36"/><circle cx="59.09" cy="448.63" r="0.85" opacity="0.68"/><circle cx="50.18" cy="450.7" r="0.77" opacity="0.37"/><circle cx="51.29" cy="454.18" r="0.44" opacity="0.6"/><circle cx="41.15" cy="452.98" r="0.76" opacity="0.7"/><circle cx="41.55" cy="449.71" r="0.72" opacity="0.49"/><circle cx="59.3" cy="449.56" r="0.97" opacity="0.74"/><circle cx="47.65" cy="454.01" r="0.61" opacity="0.37"/><circle cx="50.16" cy="443.53" r="0.98" opacity="0.55"/><circle cx="58.23" cy="447.35" r="0.42" opacity="0.45"/><circle cx="55.2" cy="446.11" r="1.07" opacity="0.56"/><circle cx="56.5" cy="453.14" r="0.93" opacity="0.49"/><circle cx="54.35" cy="452.64" r="1.06" opacity="0.76"/><circle cx="53.11" cy="452.98" r="0.49" opacity="0.37"/><circle cx="50.73" cy="445.75" r="0.79" opacity="0.59"/><circle cx="52.58" cy="457.51" r="0.51" opacity="0.7"/><circle cx="54.25" cy="453.95" r="0.56" opacity="0.49"/><circle cx="58.16" cy="448.1" r="0.62" opacity="0.84"/><circle cx="51.03" cy="455.67" r="0.98" opacity="0.7"/><circle cx="57.4" cy="455.45" r="0.56" opacity="0.48"/><circle cx="50.32" cy="444.14" r="0.62" opacity="0.37"/><circle cx="55.84" cy="453.71" r="0.58" opacity="0.68"/><circle cx="44.96" cy="454.46" r="1.05" opacity="0.61"/><circle cx="41.39" cy="445.58" r="0.54" opacity="0.42"/><circle cx="56.96" cy="444.88" r="0.58" opacity="0.44"/><circle cx="48.89" cy="440.22" r="0.55" opacity="0.87"/><circle cx="55.15" cy="444.57" r="0.7" opacity="0.39"/><circle cx="58.86" cy="452.01" r="0.58" opacity="0.73"/><circle cx="49.13" cy="458.59" r="0.81" opacity="0.5"/><circle cx="53.28" cy="457.12" r="0.47" opacity="0.46"/><circle cx="41.1" cy="446.4" r="0.83" opacity="0.49"/><circle cx="53.37" cy="447.5" r="0.43" opacity="0.49"/><circle cx="47.25" cy="450.51" r="0.54" opacity="0.54"/><circle cx="46.33" cy="448.14" r="0.66" opacity="0.84"/><circle cx="57.41" cy="448.73" r="0.88" opacity="0.67"/><circle cx="50.69" cy="451.12" r="0.43" opacity="0.85"/><circle cx="46.61" cy="440.54" r="0.43" opacity="0.7"/><circle cx="41.2" cy="450.63" r="0.63" opacity="0.9"/><circle cx="55.97" cy="453" r="0.91" opacity="0.85"/><circle cx="48.86" cy="441.51" r="0.94" opacity="0.85"/><circle cx="44.68" cy="456.21" r="1.01" opacity="0.83"/><circle cx="41.97" cy="454.03" r="0.99" opacity="0.66"/><circle cx="45.24" cy="445.42" r="0.8" opacity="0.68"/><circle cx="56.39" cy="453.48" r="1.08" opacity="0.83"/><circle cx="48.69" cy="443.65" r="0.91" opacity="0.66"/><circle cx="41.17" cy="452.98" r="0.48" opacity="0.76"/><circle cx="56.99" cy="451.11" r="0.74" opacity="0.46"/><circle cx="47.32" cy="443.15" r="0.83" opacity="0.86"/><circle cx="49.49" cy="450.74" r="0.62" opacity="0.72"/><circle cx="50.71" cy="453.56" r="1.02" opacity="0.71"/><circle cx="40.88" cy="453" r="0.64" opacity="0.71"/><circle cx="51.57" cy="455.8" r="0.95" opacity="0.85"/><circle cx="53.96" cy="445.55" r="0.8" opacity="0.51"/><circle cx="54.05" cy="454.91" r="0.97" opacity="0.82"/><circle cx="47.22" cy="440.43" r="0.6" opacity="0.43"/><circle cx="44.63" cy="451.27" r="0.56" opacity="0.57"/><circle cx="44.68" cy="444.81" r="0.63" opacity="0.81"/><circle cx="56.08" cy="448.96" r="0.47" opacity="0.35"/><circle cx="50.92" cy="448.27" r="0.89" opacity="0.66"/><circle cx="46.36" cy="457.83" r="0.43" opacity="0.41"/><circle cx="48.05" cy="450.13" r="0.97" opacity="0.47"/><circle cx="50.87" cy="451.34" r="0.84" opacity="0.59"/><circle cx="44.09" cy="443.92" r="0.95" opacity="0.88"/><circle cx="47.77" cy="445.69" r="0.73" opacity="0.43"/><circle cx="56.24" cy="450.16" r="0.89" opacity="0.43"/><circle cx="48.72" cy="455.41" r="0.88" opacity="0.63"/><circle cx="43.11" cy="444.09" r="0.68" opacity="0.78"/></g>
<rect x="62.35" y="437.8" width="23.65" height="23.8" fill="url(#cellbg)"/>
<circle cx="74.17" cy="449.7" r="11.6" fill="url(#well)"/>
<circle cx="74.17" cy="449.7" r="10.5" fill="#6e76c4" opacity="0.1"/>
<g fill="#3c40aa"><circle cx="76.58" cy="448.09" r="0.69" opacity="0.67"/><circle cx="78.7" cy="454.51" r="0.56" opacity="0.76"/><circle cx="68.89" cy="454.87" r="0.67" opacity="0.7"/><circle cx="80.44" cy="447.41" r="0.57" opacity="0.4"/><circle cx="72.62" cy="440.97" r="0.56" opacity="0.66"/><circle cx="76.3" cy="458.75" r="0.71" opacity="0.8"/><circle cx="65.69" cy="447.69" r="0.42" opacity="0.76"/><circle cx="77.74" cy="445.15" r="0.32" opacity="0.52"/><circle cx="66.01" cy="447.03" r="0.49" opacity="0.31"/><circle cx="75.08" cy="447.39" r="0.63" opacity="0.39"/><circle cx="69.75" cy="457.19" r="0.34" opacity="0.37"/><circle cx="65.88" cy="448.84" r="0.65" opacity="0.65"/><circle cx="80.66" cy="447.4" r="0.7" opacity="0.34"/><circle cx="75.45" cy="456.7" r="0.41" opacity="0.67"/><circle cx="69.62" cy="444.27" r="0.65" opacity="0.58"/><circle cx="71.89" cy="455.3" r="0.65" opacity="0.76"/><circle cx="76.52" cy="458.43" r="0.71" opacity="0.56"/><circle cx="70.24" cy="447.76" r="0.52" opacity="0.55"/><circle cx="72.89" cy="448.7" r="0.71" opacity="0.56"/><circle cx="67.06" cy="454.83" r="0.53" opacity="0.55"/><circle cx="73.26" cy="447.36" r="0.52" opacity="0.51"/><circle cx="83.25" cy="447.18" r="0.4" opacity="0.54"/><circle cx="78.68" cy="454.32" r="0.64" opacity="0.76"/><circle cx="68.72" cy="450.51" r="0.36" opacity="0.61"/><circle cx="77.32" cy="448.1" r="0.62" opacity="0.31"/><circle cx="75.78" cy="454.09" r="0.58" opacity="0.46"/><circle cx="69.43" cy="455.79" r="0.33" opacity="0.67"/><circle cx="79.19" cy="454.58" r="0.39" opacity="0.4"/><circle cx="67.82" cy="448.47" r="0.45" opacity="0.51"/><circle cx="70.32" cy="448.98" r="0.37" opacity="0.62"/><circle cx="69.58" cy="444.25" r="0.65" opacity="0.61"/><circle cx="77.11" cy="446" r="0.61" opacity="0.71"/><circle cx="78.68" cy="446.54" r="0.42" opacity="0.77"/><circle cx="76.12" cy="459.3" r="0.67" opacity="0.37"/><circle cx="74.73" cy="458.03" r="0.39" opacity="0.35"/><circle cx="77.32" cy="444.17" r="0.63" opacity="0.36"/><circle cx="67.53" cy="454.35" r="0.29" opacity="0.4"/><circle cx="70.32" cy="441.18" r="0.71" opacity="0.36"/><circle cx="65.65" cy="449.4" r="0.5" opacity="0.65"/><circle cx="75.15" cy="452.11" r="0.33" opacity="0.32"/><circle cx="67.51" cy="447.46" r="0.53" opacity="0.37"/><circle cx="75.94" cy="453.76" r="0.65" opacity="0.8"/><circle cx="76.89" cy="448.36" r="0.31" opacity="0.78"/><circle cx="65.85" cy="451.72" r="0.42" opacity="0.54"/><circle cx="67.78" cy="449.08" r="0.54" opacity="0.3"/><circle cx="71.45" cy="441.12" r="0.36" opacity="0.53"/><circle cx="73.76" cy="443.47" r="0.37" opacity="0.38"/><circle cx="72.96" cy="449.6" r="0.67" opacity="0.71"/><circle cx="71.62" cy="440.97" r="0.56" opacity="0.5"/><circle cx="68.53" cy="445.62" r="0.71" opacity="0.71"/><circle cx="73.69" cy="459.04" r="0.61" opacity="0.69"/><circle cx="76.64" cy="443.97" r="0.67" opacity="0.75"/><circle cx="71.26" cy="441.63" r="0.62" opacity="0.5"/><circle cx="73.73" cy="447.14" r="0.43" opacity="0.54"/><circle cx="80.01" cy="450.09" r="0.56" opacity="0.62"/><circle cx="75.24" cy="459.16" r="0.57" opacity="0.47"/><circle cx="70.2" cy="443.46" r="0.51" opacity="0.5"/><circle cx="82.03" cy="449.69" r="0.59" opacity="0.69"/><circle cx="75.64" cy="449.52" r="0.55" opacity="0.67"/><circle cx="73.92" cy="455.9" r="0.3" opacity="0.4"/><circle cx="71.99" cy="451.87" r="0.39" opacity="0.76"/><circle cx="67.53" cy="447.54" r="0.71" opacity="0.59"/><circle cx="82" cy="449.46" r="0.64" opacity="0.34"/><circle cx="67.19" cy="444.79" r="0.3" opacity="0.77"/><circle cx="77.78" cy="455.38" r="0.35" opacity="0.55"/><circle cx="72.36" cy="448.18" r="0.7" opacity="0.51"/><circle cx="66.7" cy="448.43" r="0.44" opacity="0.44"/><circle cx="70.05" cy="443.63" r="0.4" opacity="0.66"/><circle cx="73.84" cy="450.81" r="0.39" opacity="0.32"/><circle cx="78.89" cy="456.79" r="0.45" opacity="0.76"/><circle cx="74.15" cy="447.51" r="0.72" opacity="0.78"/><circle cx="82.52" cy="453.86" r="0.47" opacity="0.54"/><circle cx="78.94" cy="448.89" r="0.51" opacity="0.78"/><circle cx="73.03" cy="443.09" r="0.71" opacity="0.71"/><circle cx="71.53" cy="447.69" r="0.55" opacity="0.53"/><circle cx="74.82" cy="451.84" r="0.51" opacity="0.36"/><circle cx="66.68" cy="452.51" r="0.48" opacity="0.43"/><circle cx="68.66" cy="446.56" r="0.62" opacity="0.57"/><circle cx="83.74" cy="449.56" r="0.6" opacity="0.42"/><circle cx="81.16" cy="455.77" r="0.63" opacity="0.62"/></g>
<rect x="87" y="437.8" width="23.65" height="23.8" fill="url(#cellbg)"/>
<circle cx="98.83" cy="449.7" r="11.6" fill="url(#well)"/>
<circle cx="98.83" cy="449.7" r="10.5" fill="#6e76c4" opacity="0.08"/>
<g fill="#3c40aa"><circle cx="95.59" cy="453.65" r="0.62" opacity="0.55"/><circle cx="92.29" cy="445.45" r="0.65" opacity="0.37"/><circle cx="98.89" cy="459.4" r="0.73" opacity="0.7"/><circle cx="101.17" cy="450.29" r="0.42" opacity="0.48"/><circle cx="96.58" cy="447.5" r="0.55" opacity="0.31"/><circle cx="105.72" cy="453.87" r="0.55" opacity="0.58"/><circle cx="94.09" cy="454.55" r="0.4" opacity="0.44"/><circle cx="98.53" cy="440.73" r="0.33" opacity="0.34"/><circle cx="101.64" cy="442.49" r="0.66" opacity="0.38"/><circle cx="94.4" cy="451.98" r="0.68" opacity="0.46"/><circle cx="93.28" cy="441.69" r="0.45" opacity="0.54"/><circle cx="98.59" cy="440.3" r="0.5" opacity="0.46"/><circle cx="106.34" cy="454.95" r="0.33" opacity="0.32"/><circle cx="92.55" cy="447.02" r="0.62" opacity="0.42"/><circle cx="99.26" cy="447.03" r="0.4" opacity="0.6"/><circle cx="103.53" cy="452.35" r="0.64" opacity="0.61"/><circle cx="98.06" cy="453.33" r="0.46" opacity="0.63"/><circle cx="96.58" cy="452.2" r="0.63" opacity="0.55"/><circle cx="107.11" cy="445.05" r="0.72" opacity="0.49"/><circle cx="100.6" cy="444.59" r="0.45" opacity="0.47"/><circle cx="107.32" cy="446" r="0.41" opacity="0.45"/><circle cx="94.9" cy="454.12" r="0.48" opacity="0.47"/><circle cx="101.32" cy="456.62" r="0.67" opacity="0.54"/><circle cx="102.62" cy="443.4" r="0.38" opacity="0.64"/><circle cx="102.64" cy="446.16" r="0.31" opacity="0.53"/><circle cx="91.72" cy="447.68" r="0.75" opacity="0.59"/><circle cx="99.66" cy="447.36" r="0.55" opacity="0.66"/><circle cx="101.24" cy="451.11" r="0.64" opacity="0.71"/><circle cx="105.55" cy="453.66" r="0.36" opacity="0.64"/><circle cx="95.95" cy="445.79" r="0.4" opacity="0.65"/><circle cx="90.33" cy="448.54" r="0.48" opacity="0.44"/><circle cx="106.7" cy="448.11" r="0.53" opacity="0.54"/><circle cx="97.33" cy="441.59" r="0.73" opacity="0.48"/><circle cx="102.51" cy="442.6" r="0.7" opacity="0.67"/><circle cx="103.47" cy="441.71" r="0.75" opacity="0.59"/><circle cx="90.66" cy="448.47" r="0.67" opacity="0.48"/><circle cx="95.54" cy="451.5" r="0.64" opacity="0.76"/><circle cx="95.98" cy="452.53" r="0.39" opacity="0.48"/><circle cx="96.31" cy="459.02" r="0.33" opacity="0.43"/><circle cx="104.75" cy="454.91" r="0.66" opacity="0.37"/><circle cx="104.96" cy="452.23" r="0.57" opacity="0.72"/><circle cx="101.97" cy="450.43" r="0.38" opacity="0.38"/><circle cx="99.58" cy="457.96" r="0.58" opacity="0.39"/><circle cx="100.89" cy="454.47" r="0.38" opacity="0.64"/><circle cx="96.08" cy="456.42" r="0.68" opacity="0.51"/><circle cx="98.22" cy="458.91" r="0.72" opacity="0.44"/><circle cx="89.66" cy="446.89" r="0.52" opacity="0.39"/><circle cx="107.9" cy="452.63" r="0.67" opacity="0.46"/><circle cx="91.89" cy="448.49" r="0.43" opacity="0.76"/><circle cx="96.2" cy="445.71" r="0.3" opacity="0.51"/></g>
<rect x="111.65" y="437.8" width="23.65" height="23.8" fill="url(#cellbg)"/>
<circle cx="123.47" cy="449.7" r="11.6" fill="url(#well)"/>
<g fill="#3c40aa"><circle cx="117.42" cy="456.02" r="0.41" opacity="0.21"/><circle cx="125.61" cy="452.94" r="0.29" opacity="0.15"/><circle cx="128.27" cy="444.54" r="0.39" opacity="0.28"/><circle cx="122.73" cy="456.83" r="0.24" opacity="0.24"/><circle cx="132.36" cy="449.78" r="0.45" opacity="0.25"/><circle cx="127.9" cy="452.22" r="0.41" opacity="0.12"/><circle cx="116.82" cy="450.54" r="0.48" opacity="0.21"/><circle cx="126.85" cy="445.48" r="0.43" opacity="0.18"/><circle cx="126.04" cy="448.22" r="0.44" opacity="0.14"/><circle cx="116.63" cy="447.79" r="0.24" opacity="0.25"/><circle cx="121.42" cy="454.76" r="0.22" opacity="0.16"/><circle cx="115.36" cy="451.39" r="0.3" opacity="0.23"/><circle cx="128.32" cy="453.49" r="0.33" opacity="0.28"/><circle cx="127.28" cy="442.75" r="0.2" opacity="0.17"/><circle cx="122.29" cy="445.07" r="0.36" opacity="0.19"/><circle cx="133.21" cy="450.34" r="0.43" opacity="0.14"/><circle cx="119.54" cy="446.18" r="0.31" opacity="0.2"/><circle cx="121.78" cy="455.13" r="0.31" opacity="0.23"/></g>
<rect x="37.7" y="462.6" width="23.65" height="23.8" fill="url(#cellbg)"/>
<circle cx="49.53" cy="474.5" r="11.6" fill="url(#well)"/>
<g fill="#3c40aa"><circle cx="49.35" cy="478.88" r="0.75" opacity="0.44"/><circle cx="56.44" cy="472.01" r="0.75" opacity="0.44"/><circle cx="50.91" cy="471.86" r="0.43" opacity="0.33"/><circle cx="45.91" cy="467.09" r="0.45" opacity="0.47"/><circle cx="53.44" cy="468.05" r="0.4" opacity="0.39"/></g>
<rect x="62.35" y="462.6" width="23.65" height="23.8" fill="url(#cellbg)"/>
<circle cx="74.17" cy="474.5" r="11.6" fill="url(#well)"/>
<g fill="#3c40aa"><circle cx="76.08" cy="477.38" r="0.52" opacity="0.28"/><circle cx="79.8" cy="471.44" r="0.57" opacity="0.52"/><circle cx="75.11" cy="465.67" r="0.51" opacity="0.38"/><circle cx="73.14" cy="475.14" r="0.51" opacity="0.54"/><circle cx="82.83" cy="473.51" r="0.64" opacity="0.5"/><circle cx="79.78" cy="475.16" r="0.48" opacity="0.52"/><circle cx="78.9" cy="478.23" r="0.57" opacity="0.58"/><circle cx="77.66" cy="467.68" r="0.39" opacity="0.57"/></g>
<rect x="87" y="462.6" width="23.65" height="23.8" fill="url(#cellbg)"/>
<circle cx="98.83" cy="474.5" r="11.6" fill="url(#well)"/>
<circle cx="98.83" cy="474.5" r="10.5" fill="#6e76c4" opacity="0.03"/>
<g fill="#3c40aa"><circle cx="104.77" cy="470.35" r="0.46" opacity="0.46"/><circle cx="104.03" cy="480.94" r="0.76" opacity="0.46"/><circle cx="96.89" cy="465.75" r="0.39" opacity="0.64"/><circle cx="95.78" cy="471.38" r="0.34" opacity="0.35"/><circle cx="91.57" cy="470.72" r="0.45" opacity="0.64"/><circle cx="94.54" cy="479.61" r="0.36" opacity="0.65"/><circle cx="104.96" cy="481.51" r="0.55" opacity="0.48"/><circle cx="94.14" cy="472.63" r="0.72" opacity="0.66"/><circle cx="101.95" cy="467.57" r="0.35" opacity="0.59"/><circle cx="96.6" cy="483.51" r="0.41" opacity="0.49"/><circle cx="100.88" cy="470.81" r="0.55" opacity="0.28"/><circle cx="102.9" cy="475.33" r="0.76" opacity="0.64"/><circle cx="95.87" cy="469.94" r="0.61" opacity="0.55"/><circle cx="93.28" cy="479.6" r="0.67" opacity="0.25"/><circle cx="100.92" cy="480.87" r="0.36" opacity="0.41"/><circle cx="95.12" cy="472.77" r="0.54" opacity="0.36"/><circle cx="93.69" cy="472.16" r="0.6" opacity="0.26"/><circle cx="97.05" cy="471.22" r="0.75" opacity="0.5"/><circle cx="92.65" cy="475.68" r="0.59" opacity="0.53"/><circle cx="99.25" cy="466.01" r="0.52" opacity="0.66"/><circle cx="103.6" cy="466.8" r="0.49" opacity="0.43"/><circle cx="90.29" cy="470.75" r="0.54" opacity="0.47"/><circle cx="90.34" cy="478.35" r="0.45" opacity="0.27"/><circle cx="97.4" cy="465.31" r="0.64" opacity="0.5"/><circle cx="98.89" cy="469.09" r="0.57" opacity="0.27"/><circle cx="103.47" cy="479.12" r="0.53" opacity="0.41"/><circle cx="106.56" cy="477.12" r="0.54" opacity="0.35"/><circle cx="96.69" cy="480.28" r="0.41" opacity="0.27"/></g>
<rect x="111.65" y="462.6" width="23.65" height="23.8" fill="url(#cellbg)"/>
<circle cx="123.47" cy="474.5" r="11.6" fill="url(#well)"/>
<g fill="#3c40aa"><circle cx="131.65" cy="469.4" r="0.39" opacity="0.26"/><circle cx="115.73" cy="478.67" r="0.26" opacity="0.24"/><circle cx="114.97" cy="470.7" r="0.22" opacity="0.25"/><circle cx="128.59" cy="479.54" r="0.48" opacity="0.11"/><circle cx="123.68" cy="479.86" r="0.29" opacity="0.12"/><circle cx="130.47" cy="469.08" r="0.31" opacity="0.17"/><circle cx="121.67" cy="473.43" r="0.2" opacity="0.27"/><circle cx="121.02" cy="480.97" r="0.48" opacity="0.28"/></g>
<rect x="37.7" y="487.4" width="23.65" height="23.8" fill="url(#cellbg)"/>
<circle cx="49.53" cy="499.3" r="11.6" fill="url(#well)"/>
<g fill="#3c40aa"><circle cx="45.14" cy="500.06" r="0.64" opacity="0.77"/><circle cx="52.98" cy="496.68" r="1.01" opacity="0.48"/><circle cx="45.52" cy="500" r="1.04" opacity="0.81"/><circle cx="51.84" cy="506.74" r="0.57" opacity="0.75"/><circle cx="52.56" cy="500.29" r="0.94" opacity="0.46"/><circle cx="56.93" cy="493.94" r="0.93" opacity="0.37"/><circle cx="46.36" cy="490.35" r="0.74" opacity="0.34"/><circle cx="50.43" cy="504.65" r="0.93" opacity="0.4"/></g>
<rect x="62.35" y="487.4" width="23.65" height="23.8" fill="url(#cellbg)"/>
<circle cx="74.17" cy="499.3" r="11.6" fill="url(#well)"/>
<circle cx="74.17" cy="499.3" r="10.5" fill="#6e76c4" opacity="0.02"/>
<g fill="#3c40aa"><circle cx="76.17" cy="503.62" r="0.61" opacity="0.62"/><circle cx="68.63" cy="505.03" r="0.71" opacity="0.53"/><circle cx="74.88" cy="504.63" r="0.73" opacity="0.56"/><circle cx="72.86" cy="507.03" r="0.34" opacity="0.7"/><circle cx="67.55" cy="501.91" r="0.55" opacity="0.28"/><circle cx="69.94" cy="496.24" r="0.41" opacity="0.62"/><circle cx="78.64" cy="502.02" r="0.65" opacity="0.37"/><circle cx="72.86" cy="506.43" r="0.38" opacity="0.67"/><circle cx="75.97" cy="499.16" r="0.51" opacity="0.6"/><circle cx="67.1" cy="505.56" r="0.53" opacity="0.34"/><circle cx="66.79" cy="496.59" r="0.47" opacity="0.56"/><circle cx="75.63" cy="492.41" r="0.53" opacity="0.64"/><circle cx="71.34" cy="492.82" r="0.74" opacity="0.34"/><circle cx="74.91" cy="495.39" r="0.58" opacity="0.37"/><circle cx="66.16" cy="502.45" r="0.67" opacity="0.62"/><circle cx="74.78" cy="506.13" r="0.4" opacity="0.52"/><circle cx="72.33" cy="499.31" r="0.58" opacity="0.58"/><circle cx="65.96" cy="495.26" r="0.38" opacity="0.33"/><circle cx="81.03" cy="500.07" r="0.5" opacity="0.46"/><circle cx="73.46" cy="508.03" r="0.33" opacity="0.67"/><circle cx="67.62" cy="496.27" r="0.67" opacity="0.37"/><circle cx="77.49" cy="503.64" r="0.32" opacity="0.4"/></g>
<rect x="87" y="487.4" width="23.65" height="23.8" fill="url(#cellbg)"/>
<circle cx="98.83" cy="499.3" r="11.6" fill="url(#well)"/>
<circle cx="98.83" cy="499.3" r="10.5" fill="#6e76c4" opacity="0.08"/>
<g fill="#3c40aa"><circle cx="93.68" cy="494.4" r="0.45" opacity="0.56"/><circle cx="106.37" cy="503.98" r="0.4" opacity="0.4"/><circle cx="103.2" cy="506.17" r="0.73" opacity="0.66"/><circle cx="104.65" cy="501.65" r="0.5" opacity="0.38"/><circle cx="100.8" cy="498.93" r="0.56" opacity="0.65"/><circle cx="102.54" cy="498.98" r="0.54" opacity="0.64"/><circle cx="103.49" cy="500.47" r="0.76" opacity="0.35"/><circle cx="94.64" cy="502.63" r="0.53" opacity="0.32"/><circle cx="108.38" cy="501.39" r="0.69" opacity="0.63"/><circle cx="99.45" cy="504.19" r="0.59" opacity="0.4"/><circle cx="89.64" cy="501.56" r="0.5" opacity="0.44"/><circle cx="106.43" cy="498.4" r="0.33" opacity="0.47"/><circle cx="97.43" cy="497.38" r="0.48" opacity="0.61"/><circle cx="103.79" cy="493.63" r="0.75" opacity="0.5"/><circle cx="91.79" cy="504.91" r="0.5" opacity="0.66"/><circle cx="100.07" cy="504.94" r="0.41" opacity="0.54"/><circle cx="101.1" cy="503.09" r="0.42" opacity="0.5"/><circle cx="96.47" cy="505.41" r="0.81" opacity="0.61"/><circle cx="101.71" cy="495.93" r="0.5" opacity="0.31"/><circle cx="96.7" cy="493.79" r="0.45" opacity="0.29"/><circle cx="100.9" cy="503.87" r="0.51" opacity="0.72"/><circle cx="97.72" cy="494.34" r="0.49" opacity="0.35"/><circle cx="104.24" cy="497.02" r="0.69" opacity="0.63"/><circle cx="99.99" cy="498.53" r="0.47" opacity="0.46"/><circle cx="106.8" cy="503.89" r="0.48" opacity="0.65"/><circle cx="96.55" cy="499.02" r="0.51" opacity="0.39"/><circle cx="102.51" cy="500.27" r="0.61" opacity="0.3"/><circle cx="96.39" cy="505.2" r="0.58" opacity="0.35"/><circle cx="97.48" cy="494.48" r="0.67" opacity="0.6"/><circle cx="101.49" cy="502.84" r="0.45" opacity="0.62"/><circle cx="93.78" cy="502.71" r="0.74" opacity="0.39"/><circle cx="97.32" cy="504.86" r="0.42" opacity="0.3"/><circle cx="106.51" cy="500.49" r="0.6" opacity="0.67"/><circle cx="104.11" cy="498.48" r="0.65" opacity="0.72"/><circle cx="100.54" cy="507.25" r="0.64" opacity="0.74"/><circle cx="102.04" cy="495.81" r="0.63" opacity="0.32"/><circle cx="93.31" cy="501.99" r="0.34" opacity="0.46"/><circle cx="95.57" cy="505.39" r="0.45" opacity="0.36"/><circle cx="93.3" cy="503.19" r="0.4" opacity="0.6"/><circle cx="99.02" cy="502.28" r="0.48" opacity="0.48"/><circle cx="103.19" cy="505.37" r="0.66" opacity="0.55"/><circle cx="98.37" cy="497.88" r="0.51" opacity="0.45"/><circle cx="104.58" cy="501.7" r="0.34" opacity="0.52"/><circle cx="93.07" cy="495.85" r="0.48" opacity="0.4"/><circle cx="104.54" cy="500.15" r="0.76" opacity="0.55"/></g>
<rect x="111.65" y="487.4" width="23.65" height="23.8" fill="url(#cellbg)"/>
<circle cx="123.47" cy="499.3" r="11.6" fill="url(#well)"/>
<g fill="#3c40aa"><circle cx="122.88" cy="507.29" r="0.27" opacity="0.22"/><circle cx="116.3" cy="492.96" r="0.33" opacity="0.24"/><circle cx="131.52" cy="496.25" r="0.42" opacity="0.25"/><circle cx="118.12" cy="502.65" r="0.3" opacity="0.3"/><circle cx="127.88" cy="495.15" r="0.51" opacity="0.13"/><circle cx="128.06" cy="504.56" r="0.31" opacity="0.2"/><circle cx="127.23" cy="498.75" r="0.27" opacity="0.17"/><circle cx="121.46" cy="495" r="0.21" opacity="0.24"/></g>
<line x1="37.2" y1="437.3" x2="37.2" y2="511.7" stroke="#3a3d44" stroke-width="0.85"/>
<line x1="61.85" y1="437.3" x2="61.85" y2="511.7" stroke="#3a3d44" stroke-width="0.85"/>
<line x1="86.5" y1="437.3" x2="86.5" y2="511.7" stroke="#3a3d44" stroke-width="0.85"/>
<line x1="111.15" y1="437.3" x2="111.15" y2="511.7" stroke="#3a3d44" stroke-width="0.85"/>
<line x1="135.8" y1="437.3" x2="135.8" y2="511.7" stroke="#3a3d44" stroke-width="0.85"/>
<line x1="37.2" y1="437.3" x2="135.8" y2="437.3" stroke="#3a3d44" stroke-width="0.85"/>
<line x1="37.2" y1="462.1" x2="135.8" y2="462.1" stroke="#3a3d44" stroke-width="0.85"/>
<line x1="37.2" y1="486.9" x2="135.8" y2="486.9" stroke="#3a3d44" stroke-width="0.85"/>
<line x1="37.2" y1="511.7" x2="135.8" y2="511.7" stroke="#3a3d44" stroke-width="0.85"/>
<text x="148.9" y="366.9" font-size="11" fill="#000" stroke="#000">F</text>
<line x1="191.5" y1="366" x2="191.5" y2="475.5" stroke="#1a1a1a" stroke-width="1"/>
<line x1="191.2" y1="475.5" x2="348.6" y2="475.5" stroke="#1a1a1a" stroke-width="1"/>
<line x1="188.2" y1="475.5" x2="191.2" y2="475.5" stroke="#1a1a1a" stroke-width="1"/>
<text x="187.2" y="478.1" font-size="7.4" text-anchor="end" fill="#000" stroke="#000">0.0</text>
<line x1="188.2" y1="453.5" x2="191.2" y2="453.5" stroke="#1a1a1a" stroke-width="1"/>
<text x="187.2" y="456.2" font-size="7.4" text-anchor="end" fill="#000" stroke="#000">0.5</text>
<line x1="188.2" y1="431.5" x2="191.2" y2="431.5" stroke="#1a1a1a" stroke-width="1"/>
<text x="187.2" y="434.3" font-size="7.4" text-anchor="end" fill="#000" stroke="#000">1.0</text>
<line x1="188.2" y1="409.5" x2="191.2" y2="409.5" stroke="#1a1a1a" stroke-width="1"/>
<text x="187.2" y="412.4" font-size="7.4" text-anchor="end" fill="#000" stroke="#000">1.5</text>
<line x1="188.2" y1="387.5" x2="191.2" y2="387.5" stroke="#1a1a1a" stroke-width="1"/>
<text x="187.2" y="390.5" font-size="7.4" text-anchor="end" fill="#000" stroke="#000">2.0</text>
<line x1="188.2" y1="366.5" x2="191.2" y2="366.5" stroke="#1a1a1a" stroke-width="1"/>
<text x="187.2" y="368.6" font-size="7.4" text-anchor="end" fill="#000" stroke="#000">2.5</text>
<text x="161" y="419.5" font-size="8" text-anchor="middle" fill="#000" stroke="#000" transform="rotate(-90 161 419.5)">Relative colony number</text>
<text x="171.7" y="415.5" font-size="8" text-anchor="middle" fill="#000" stroke="#000" transform="rotate(-90 171.7 415.5)">(to sgNeg)</text>
<line x1="210.5" y1="475.5" x2="210.5" y2="478.3" stroke="#1a1a1a" stroke-width="1"/>
<rect x="196.25" y="431.7" width="6.5" height="43.8" fill="#fff" stroke="#1a1a1a" stroke-width="1.15"/>
<rect x="208.05" y="464.55" width="6.5" height="10.95" fill="#fff" stroke="#1a1a1a" stroke-width="1.15"/>
<rect x="219.45" y="464.99" width="6.5" height="10.51" fill="#fff" stroke="#1a1a1a" stroke-width="1.15"/>
<circle cx="196.5" cy="432.58" r="1.3" fill="none" stroke="#222" stroke-width="0.85"/>
<circle cx="198" cy="431.7" r="1.3" fill="none" stroke="#222" stroke-width="0.85"/>
<circle cx="199.5" cy="432.14" r="1.3" fill="none" stroke="#222" stroke-width="0.85"/>
<circle cx="201" cy="431.26" r="1.3" fill="none" stroke="#222" stroke-width="0.85"/>
<circle cx="202.5" cy="430.39" r="1.3" fill="none" stroke="#222" stroke-width="0.85"/>
<circle cx="208.8" cy="463.67" r="1.3" fill="none" stroke="#e0242a" stroke-width="0.85"/>
<circle cx="210.3" cy="465.86" r="1.3" fill="none" stroke="#e0242a" stroke-width="0.85"/>
<circle cx="212.3" cy="462.36" r="1.3" fill="none" stroke="#e0242a" stroke-width="0.85"/>
<circle cx="213.8" cy="464.55" r="1.3" fill="none" stroke="#e0242a" stroke-width="0.85"/>
<circle cx="211.3" cy="466.74" r="1.3" fill="none" stroke="#e0242a" stroke-width="0.85"/>
<circle cx="209.3" cy="464.99" r="1.3" fill="none" stroke="#e0242a" stroke-width="0.85"/>
<line x1="211.3" y1="461.92" x2="211.3" y2="467.18" stroke="#111" stroke-width="1"/>
<line x1="209.5" y1="461.92" x2="213.1" y2="461.92" stroke="#111" stroke-width="1"/>
<line x1="209.5" y1="467.18" x2="213.1" y2="467.18" stroke="#111" stroke-width="1"/>
<circle cx="220.2" cy="464.55" r="1.3" fill="none" stroke="#2a2ae0" stroke-width="0.85"/>
<circle cx="221.7" cy="465.86" r="1.3" fill="none" stroke="#2a2ae0" stroke-width="0.85"/>
<circle cx="223.7" cy="464.11" r="1.3" fill="none" stroke="#2a2ae0" stroke-width="0.85"/>
<circle cx="225.2" cy="464.99" r="1.3" fill="none" stroke="#2a2ae0" stroke-width="0.85"/>
<circle cx="222.7" cy="466.74" r="1.3" fill="none" stroke="#2a2ae0" stroke-width="0.85"/>
<line x1="222.7" y1="462.8" x2="222.7" y2="467.18" stroke="#111" stroke-width="1"/>
<line x1="220.9" y1="462.8" x2="224.5" y2="462.8" stroke="#111" stroke-width="1"/>
<line x1="220.9" y1="467.18" x2="224.5" y2="467.18" stroke="#111" stroke-width="1"/>
<line x1="250.5" y1="475.5" x2="250.5" y2="478.3" stroke="#1a1a1a" stroke-width="1"/>
<rect x="235.45" y="431.7" width="6.5" height="43.8" fill="#fff" stroke="#1a1a1a" stroke-width="1.15"/>
<rect x="246.75" y="463.24" width="6.5" height="12.26" fill="#fff" stroke="#1a1a1a" stroke-width="1.15"/>
<rect x="258.5" y="466.74" width="6.5" height="8.76" fill="#fff" stroke="#1a1a1a" stroke-width="1.15"/>
<circle cx="238.7" cy="422.94" r="1.3" fill="none" stroke="#222" stroke-width="0.85"/>
<circle cx="238.7" cy="426.01" r="1.3" fill="none" stroke="#222" stroke-width="0.85"/>
<circle cx="237.2" cy="431.7" r="1.3" fill="none" stroke="#222" stroke-width="0.85"/>
<circle cx="240.2" cy="431.7" r="1.3" fill="none" stroke="#222" stroke-width="0.85"/>
<circle cx="236.2" cy="432.58" r="1.3" fill="none" stroke="#222" stroke-width="0.85"/>
<circle cx="241.2" cy="430.82" r="1.3" fill="none" stroke="#222" stroke-width="0.85"/>
<circle cx="238.7" cy="436.08" r="1.3" fill="none" stroke="#222" stroke-width="0.85"/>
<circle cx="238.7" cy="438.27" r="1.3" fill="none" stroke="#222" stroke-width="0.85"/>
<line x1="238.7" y1="426.44" x2="238.7" y2="436.96" stroke="#111" stroke-width="1"/>
<line x1="236.9" y1="426.44" x2="240.5" y2="426.44" stroke="#111" stroke-width="1"/>
<line x1="236.9" y1="436.96" x2="240.5" y2="436.96" stroke="#111" stroke-width="1"/>
<circle cx="247.5" cy="463.24" r="1.3" fill="none" stroke="#e0242a" stroke-width="0.85"/>
<circle cx="249" cy="461.48" r="1.3" fill="none" stroke="#e0242a" stroke-width="0.85"/>
<circle cx="251" cy="461.92" r="1.3" fill="none" stroke="#e0242a" stroke-width="0.85"/>
<circle cx="252.5" cy="463.67" r="1.3" fill="none" stroke="#e0242a" stroke-width="0.85"/>
<circle cx="250" cy="464.99" r="1.3" fill="none" stroke="#e0242a" stroke-width="0.85"/>
<line x1="250" y1="461.48" x2="250" y2="464.99" stroke="#111" stroke-width="1"/>
<line x1="248.2" y1="461.48" x2="251.8" y2="461.48" stroke="#111" stroke-width="1"/>
<line x1="248.2" y1="464.99" x2="251.8" y2="464.99" stroke="#111" stroke-width="1"/>
<circle cx="259.25" cy="466.74" r="1.3" fill="none" stroke="#2a2ae0" stroke-width="0.85"/>
<circle cx="261.75" cy="464.99" r="1.3" fill="none" stroke="#2a2ae0" stroke-width="0.85"/>
<circle cx="264.25" cy="466.74" r="1.3" fill="none" stroke="#2a2ae0" stroke-width="0.85"/>
<circle cx="260.75" cy="467.18" r="1.3" fill="none" stroke="#2a2ae0" stroke-width="0.85"/>
<circle cx="262.75" cy="467.18" r="1.3" fill="none" stroke="#2a2ae0" stroke-width="0.85"/>
<line x1="261.75" y1="465.43" x2="261.75" y2="468.05" stroke="#111" stroke-width="1"/>
<line x1="259.95" y1="465.43" x2="263.55" y2="465.43" stroke="#111" stroke-width="1"/>
<line x1="259.95" y1="468.05" x2="263.55" y2="468.05" stroke="#111" stroke-width="1"/>
<line x1="289.5" y1="475.5" x2="289.5" y2="478.3" stroke="#1a1a1a" stroke-width="1"/>
<rect x="274.35" y="432.14" width="6.5" height="43.36" fill="#fff" stroke="#1a1a1a" stroke-width="1.15"/>
<rect x="285.75" y="411.55" width="6.5" height="63.95" fill="#fff" stroke="#1a1a1a" stroke-width="1.15"/>
<rect x="297.25" y="425.57" width="6.5" height="49.93" fill="#fff" stroke="#1a1a1a" stroke-width="1.15"/>
<circle cx="274.4" cy="423.38" r="1.3" fill="none" stroke="#222" stroke-width="0.85"/>
<circle cx="279.9" cy="422.06" r="1.3" fill="none" stroke="#222" stroke-width="0.85"/>
<circle cx="277.6" cy="428.2" r="1.3" fill="none" stroke="#222" stroke-width="0.85"/>
<circle cx="277.6" cy="433.89" r="1.3" fill="none" stroke="#222" stroke-width="0.85"/>
<circle cx="277.6" cy="436.52" r="1.3" fill="none" stroke="#222" stroke-width="0.85"/>
<circle cx="277.6" cy="438.71" r="1.3" fill="none" stroke="#222" stroke-width="0.85"/>
<circle cx="277.6" cy="444.4" r="1.3" fill="none" stroke="#222" stroke-width="0.85"/>
<line x1="277.6" y1="424.25" x2="277.6" y2="440.02" stroke="#111" stroke-width="1"/>
<line x1="275.8" y1="424.25" x2="279.4" y2="424.25" stroke="#111" stroke-width="1"/>
<line x1="275.8" y1="440.02" x2="279.4" y2="440.02" stroke="#111" stroke-width="1"/>
<circle cx="289" cy="378.7" r="1.3" fill="none" stroke="#e0242a" stroke-width="0.85"/>
<circle cx="289" cy="388.34" r="1.3" fill="none" stroke="#e0242a" stroke-width="0.85"/>
<circle cx="289" cy="401.92" r="1.3" fill="none" stroke="#e0242a" stroke-width="0.85"/>
<circle cx="289" cy="427.32" r="1.3" fill="none" stroke="#e0242a" stroke-width="0.85"/>
<circle cx="286" cy="435.2" r="1.3" fill="none" stroke="#e0242a" stroke-width="0.85"/>
<circle cx="292" cy="434.77" r="1.3" fill="none" stroke="#e0242a" stroke-width="0.85"/>
<line x1="289" y1="386.15" x2="289" y2="436.96" stroke="#111" stroke-width="1"/>
<line x1="287.2" y1="386.15" x2="290.8" y2="386.15" stroke="#111" stroke-width="1"/>
<line x1="287.2" y1="436.96" x2="290.8" y2="436.96" stroke="#111" stroke-width="1"/>
<circle cx="300.5" cy="412.43" r="1.3" fill="none" stroke="#2a2ae0" stroke-width="0.85"/>
<circle cx="300.5" cy="415.93" r="1.3" fill="none" stroke="#2a2ae0" stroke-width="0.85"/>
<circle cx="300.5" cy="418.12" r="1.3" fill="none" stroke="#2a2ae0" stroke-width="0.85"/>
<circle cx="300.5" cy="430.39" r="1.3" fill="none" stroke="#2a2ae0" stroke-width="0.85"/>
<circle cx="297.5" cy="435.64" r="1.3" fill="none" stroke="#2a2ae0" stroke-width="0.85"/>
<circle cx="303.5" cy="435.64" r="1.3" fill="none" stroke="#2a2ae0" stroke-width="0.85"/>
<line x1="300.5" y1="415.93" x2="300.5" y2="435.2" stroke="#111" stroke-width="1"/>
<line x1="298.7" y1="415.93" x2="302.3" y2="415.93" stroke="#111" stroke-width="1"/>
<line x1="298.7" y1="435.2" x2="302.3" y2="435.2" stroke="#111" stroke-width="1"/>
<line x1="328.5" y1="475.5" x2="328.5" y2="478.3" stroke="#1a1a1a" stroke-width="1"/>
<rect x="313.25" y="431.26" width="6.5" height="44.24" fill="#fff" stroke="#1a1a1a" stroke-width="1.15"/>
<rect x="324.95" y="435.2" width="6.5" height="40.3" fill="#fff" stroke="#1a1a1a" stroke-width="1.15"/>
<rect x="336.45" y="430.39" width="6.5" height="45.11" fill="#fff" stroke="#1a1a1a" stroke-width="1.15"/>
<circle cx="316.5" cy="422.94" r="1.3" fill="none" stroke="#222" stroke-width="0.85"/>
<circle cx="314" cy="430.39" r="1.3" fill="none" stroke="#222" stroke-width="0.85"/>
<circle cx="319" cy="429.51" r="1.3" fill="none" stroke="#222" stroke-width="0.85"/>
<circle cx="315.5" cy="430.82" r="1.3" fill="none" stroke="#222" stroke-width="0.85"/>
<circle cx="317.5" cy="429.95" r="1.3" fill="none" stroke="#222" stroke-width="0.85"/>
<circle cx="316.5" cy="441.34" r="1.3" fill="none" stroke="#222" stroke-width="0.85"/>
<line x1="316.5" y1="426.88" x2="316.5" y2="435.64" stroke="#111" stroke-width="1"/>
<line x1="314.7" y1="426.88" x2="318.3" y2="426.88" stroke="#111" stroke-width="1"/>
<line x1="314.7" y1="435.64" x2="318.3" y2="435.64" stroke="#111" stroke-width="1"/>
<circle cx="325.4" cy="432.14" r="1.3" fill="none" stroke="#e0242a" stroke-width="0.85"/>
<circle cx="331" cy="432.14" r="1.3" fill="none" stroke="#e0242a" stroke-width="0.85"/>
<circle cx="328.2" cy="431.7" r="1.3" fill="none" stroke="#e0242a" stroke-width="0.85"/>
<circle cx="328.2" cy="436.96" r="1.3" fill="none" stroke="#e0242a" stroke-width="0.85"/>
<circle cx="328.2" cy="440.9" r="1.3" fill="none" stroke="#e0242a" stroke-width="0.85"/>
<line x1="328.2" y1="432.14" x2="328.2" y2="438.27" stroke="#111" stroke-width="1"/>
<line x1="326.4" y1="432.14" x2="330" y2="432.14" stroke="#111" stroke-width="1"/>
<line x1="326.4" y1="438.27" x2="330" y2="438.27" stroke="#111" stroke-width="1"/>
<circle cx="339.7" cy="422.5" r="1.3" fill="none" stroke="#2a2ae0" stroke-width="0.85"/>
<circle cx="337.2" cy="428.63" r="1.3" fill="none" stroke="#2a2ae0" stroke-width="0.85"/>
<circle cx="342.2" cy="428.63" r="1.3" fill="none" stroke="#2a2ae0" stroke-width="0.85"/>
<circle cx="339.7" cy="430.39" r="1.3" fill="none" stroke="#2a2ae0" stroke-width="0.85"/>
<circle cx="337.2" cy="431.7" r="1.3" fill="none" stroke="#2a2ae0" stroke-width="0.85"/>
<circle cx="339.7" cy="436.96" r="1.3" fill="none" stroke="#2a2ae0" stroke-width="0.85"/>
<line x1="339.7" y1="426.01" x2="339.7" y2="434.77" stroke="#111" stroke-width="1"/>
<line x1="337.9" y1="426.01" x2="341.5" y2="426.01" stroke="#111" stroke-width="1"/>
<line x1="337.9" y1="434.77" x2="341.5" y2="434.77" stroke="#111" stroke-width="1"/>
<text x="211" y="459.2" font-size="7" text-anchor="middle" font-weight="normal" fill="#000" stroke="#000" style="stroke-width:0">****</text>
<text x="223.2" y="462.3" font-size="7" text-anchor="middle" font-weight="normal" fill="#000" stroke="#000" style="stroke-width:0">****</text>
<text x="250.1" y="459.2" font-size="7" text-anchor="middle" font-weight="normal" fill="#000" stroke="#000" style="stroke-width:0">****</text>
<text x="261.6" y="462.3" font-size="7" text-anchor="middle" font-weight="normal" fill="#000" stroke="#000" style="stroke-width:0">****</text>
<text x="289.5" y="374" font-size="7.2" text-anchor="middle" font-weight="normal" fill="#000" stroke="#000">n.s.</text>
<text x="301" y="406.7" font-size="7.2" text-anchor="middle" font-weight="normal" fill="#000" stroke="#000">n.s.</text>
<text x="329.5" y="426.3" font-size="7.2" text-anchor="middle" font-weight="normal" fill="#000" stroke="#000">n.s.</text>
<text x="340.8" y="417.6" font-size="7.2" text-anchor="middle" font-weight="normal" fill="#000" stroke="#000">n.s.</text>
<circle cx="203.1" cy="370.2" r="1.2" fill="none" stroke="#222" stroke-width="0.8"/>
<text x="208.8" y="371.9" font-size="6.9" fill="#000" stroke="#000">sgNeg</text>
<circle cx="203.1" cy="380.7" r="1.2" fill="none" stroke="#e0242a" stroke-width="0.8"/>
<text x="208.8" y="382.4" font-size="6.9" fill="#000" stroke="#000">sgCHD2-1</text>
<circle cx="203.1" cy="391.2" r="1.2" fill="none" stroke="#2a2ae0" stroke-width="0.8"/>
<text x="208.8" y="392.9" font-size="6.9" fill="#000" stroke="#000">sgCHD2-2</text>
<text x="216.4" y="486.3" font-size="7.8" text-anchor="end" fill="#000" stroke="#000" transform="rotate(-42 216.4 486.3)">SU-DIPG4</text>
<text x="255.6" y="486.3" font-size="7.8" text-anchor="end" fill="#000" stroke="#000" transform="rotate(-42 255.6 486.3)">SU-DIPG36</text>
<text x="294.6" y="486.3" font-size="7.8" text-anchor="end" fill="#000" stroke="#000" transform="rotate(-42 294.6 486.3)">SU-DIPG6</text>
<text x="333.6" y="486.3" font-size="7.8" text-anchor="end" fill="#000" stroke="#000" transform="rotate(-42 333.6 486.3)">SU-DIPG17</text>
<line x1="181.8" y1="516.2" x2="230.8" y2="516.2" stroke="#444" stroke-width="1.2"/>
<text x="206.2" y="525.4" font-size="8" text-anchor="middle" fill="#000" stroke="#000">H3.1K27M</text>
<line x1="261.2" y1="516.2" x2="309.5" y2="516.2" stroke="#444" stroke-width="1.2"/>
<text x="284.8" y="525.4" font-size="8" text-anchor="middle" fill="#000" stroke="#000">H3.3K27M</text>
<text x="357.4" y="366.9" font-size="11" fill="#000" stroke="#000">G</text>
<line x1="393.5" y1="366.49" x2="393.5" y2="473.5" stroke="#1a1a1a" stroke-width="1"/>
<line x1="393.7" y1="473.5" x2="518.7" y2="473.5" stroke="#1a1a1a" stroke-width="1"/>
<line x1="389.2" y1="473.5" x2="393.7" y2="473.5" stroke="#1a1a1a" stroke-width="1"/>
<text x="387.9" y="476.1" font-size="7.4" text-anchor="end" fill="#000" stroke="#000">0</text>
<line x1="389.2" y1="437.5" x2="393.7" y2="437.5" stroke="#1a1a1a" stroke-width="1"/>
<text x="387.9" y="440.43" font-size="7.4" text-anchor="end" fill="#000" stroke="#000">1</text>
<line x1="389.2" y1="402.5" x2="393.7" y2="402.5" stroke="#1a1a1a" stroke-width="1"/>
<text x="387.9" y="404.76" font-size="7.4" text-anchor="end" fill="#000" stroke="#000">2</text>
<line x1="389.2" y1="366.5" x2="393.7" y2="366.5" stroke="#1a1a1a" stroke-width="1"/>
<text x="387.9" y="369.09" font-size="7.4" text-anchor="end" fill="#000" stroke="#000">3</text>
<text x="370.9" y="420.2" font-size="7.6" text-anchor="middle" fill="#000" stroke="#000" transform="rotate(-90 370.9 420.2)">Apoptotic cells</text>
<text x="378.6" y="419.4" font-size="8" text-anchor="middle" fill="#000" stroke="#000" transform="rotate(-90 378.6 419.4)">(relative to sgNeg)</text>
<line x1="409.5" y1="473.5" x2="409.5" y2="478" stroke="#1a1a1a" stroke-width="1"/>
<rect x="398.8" y="437.83" width="7.7" height="35.67" fill="#fff" stroke="#1a1a1a" stroke-width="1.15"/>
<circle cx="399.55" cy="437.83" r="1.35" fill="none" stroke="#222" stroke-width="0.8"/>
<circle cx="402.65" cy="437.83" r="1.35" fill="none" stroke="#222" stroke-width="0.8"/>
<circle cx="405.75" cy="437.83" r="1.35" fill="none" stroke="#222" stroke-width="0.8"/>
<rect x="412" y="397.52" width="7.5" height="75.98" fill="#fff" stroke="#1a1a1a" stroke-width="1.15"/>
<line x1="415.5" y1="381.47" x2="415.5" y2="413.57" stroke="#111" stroke-width="1"/>
<line x1="413.95" y1="381.47" x2="417.55" y2="381.47" stroke="#111" stroke-width="1"/>
<line x1="413.95" y1="413.57" x2="417.55" y2="413.57" stroke="#111" stroke-width="1"/>
<circle cx="415.75" cy="384.68" r="1.4" fill="none" stroke="#e0242a" stroke-width="0.9"/>
<circle cx="415.75" cy="391.1" r="1.4" fill="none" stroke="#e0242a" stroke-width="0.9"/>
<circle cx="415.75" cy="415" r="1.4" fill="none" stroke="#e0242a" stroke-width="0.9"/>
<line x1="440.5" y1="473.5" x2="440.5" y2="478" stroke="#1a1a1a" stroke-width="1"/>
<rect x="429.9" y="437.83" width="7.3" height="35.67" fill="#fff" stroke="#1a1a1a" stroke-width="1.15"/>
<circle cx="430.45" cy="437.83" r="1.35" fill="none" stroke="#222" stroke-width="0.8"/>
<circle cx="433.55" cy="437.83" r="1.35" fill="none" stroke="#222" stroke-width="0.8"/>
<circle cx="436.65" cy="437.83" r="1.35" fill="none" stroke="#222" stroke-width="0.8"/>
<rect x="442.6" y="418.21" width="7.7" height="55.29" fill="#fff" stroke="#1a1a1a" stroke-width="1.15"/>
<circle cx="446.45" cy="413.57" r="1.4" fill="none" stroke="#e0242a" stroke-width="0.9"/>
<circle cx="446.45" cy="416.43" r="1.4" fill="none" stroke="#e0242a" stroke-width="0.9"/>
<circle cx="446.45" cy="421.78" r="1.4" fill="none" stroke="#e0242a" stroke-width="0.9"/>
<line x1="471.5" y1="473.5" x2="471.5" y2="478" stroke="#1a1a1a" stroke-width="1"/>
<rect x="460.7" y="437.83" width="7.3" height="35.67" fill="#fff" stroke="#1a1a1a" stroke-width="1.15"/>
<circle cx="461.25" cy="437.83" r="1.35" fill="none" stroke="#222" stroke-width="0.8"/>
<circle cx="464.35" cy="437.83" r="1.35" fill="none" stroke="#222" stroke-width="0.8"/>
<circle cx="467.45" cy="437.83" r="1.35" fill="none" stroke="#222" stroke-width="0.8"/>
<rect x="473.4" y="433.55" width="7.7" height="39.95" fill="#fff" stroke="#1a1a1a" stroke-width="1.15"/>
<line x1="477.5" y1="425.7" x2="477.5" y2="441.4" stroke="#111" stroke-width="1"/>
<line x1="475.45" y1="425.7" x2="479.05" y2="425.7" stroke="#111" stroke-width="1"/>
<line x1="475.45" y1="441.4" x2="479.05" y2="441.4" stroke="#111" stroke-width="1"/>
<circle cx="474.25" cy="428.56" r="1.4" fill="none" stroke="#e0242a" stroke-width="0.9"/>
<circle cx="480.25" cy="429.63" r="1.4" fill="none" stroke="#e0242a" stroke-width="0.9"/>
<circle cx="477.25" cy="441.75" r="1.4" fill="none" stroke="#e0242a" stroke-width="0.9"/>
<line x1="502.5" y1="473.5" x2="502.5" y2="478" stroke="#1a1a1a" stroke-width="1"/>
<rect x="491.7" y="437.83" width="7.3" height="35.67" fill="#fff" stroke="#1a1a1a" stroke-width="1.15"/>
<circle cx="492.25" cy="437.83" r="1.35" fill="none" stroke="#222" stroke-width="0.8"/>
<circle cx="495.35" cy="437.83" r="1.35" fill="none" stroke="#222" stroke-width="0.8"/>
<circle cx="498.45" cy="437.83" r="1.35" fill="none" stroke="#222" stroke-width="0.8"/>
<rect x="504.5" y="431.41" width="7.5" height="42.09" fill="#fff" stroke="#1a1a1a" stroke-width="1.15"/>
<line x1="508.5" y1="428.56" x2="508.5" y2="434.26" stroke="#111" stroke-width="1"/>
<line x1="506.45" y1="428.56" x2="510.05" y2="428.56" stroke="#111" stroke-width="1"/>
<line x1="506.45" y1="434.26" x2="510.05" y2="434.26" stroke="#111" stroke-width="1"/>
<circle cx="508.25" cy="426.06" r="1.4" fill="none" stroke="#e0242a" stroke-width="0.9"/>
<circle cx="508.25" cy="431.41" r="1.4" fill="none" stroke="#e0242a" stroke-width="0.9"/>
<circle cx="508.25" cy="436.4" r="1.4" fill="none" stroke="#e0242a" stroke-width="0.9"/>
<text x="415.6" y="378.6" font-size="7" text-anchor="middle" font-weight="normal" fill="#000" stroke="#000" style="stroke-width:0">*</text>
<text x="446.9" y="409.2" font-size="7" text-anchor="middle" font-weight="normal" fill="#000" stroke="#000" style="stroke-width:0">**</text>
<text x="477.2" y="421.3" font-size="7.2" text-anchor="middle" font-weight="normal" fill="#000" stroke="#000">n.s.</text>
<text x="508.2" y="421.3" font-size="7.2" text-anchor="middle" font-weight="normal" fill="#000" stroke="#000">n.s.</text>
<circle cx="477.6" cy="369.7" r="1.2" fill="none" stroke="#222" stroke-width="0.8"/>
<text x="483.2" y="372.2" font-size="6.9" fill="#000" stroke="#000">sgNeg</text>
<circle cx="477.6" cy="380.5" r="1.2" fill="none" stroke="#e0242a" stroke-width="0.8"/>
<text x="483.2" y="383" font-size="6.9" fill="#000" stroke="#000">sgCHD2-1</text>
<text x="414.3" y="485.8" font-size="7.8" text-anchor="end" fill="#000" stroke="#000" transform="rotate(-42 414.3 485.8)">SU-DIPG4</text>
<text x="445.1" y="485.8" font-size="7.8" text-anchor="end" fill="#000" stroke="#000" transform="rotate(-42 445.1 485.8)">SU-DIPG36</text>
<text x="476.35" y="485.8" font-size="7.8" text-anchor="end" fill="#000" stroke="#000" transform="rotate(-42 476.35 485.8)">SU-DIPG6</text>
<text x="507.6" y="485.8" font-size="7.8" text-anchor="end" fill="#000" stroke="#000" transform="rotate(-42 507.6 485.8)">SU-DIPG17</text>
<line x1="372.3" y1="516.2" x2="420.8" y2="516.2" stroke="#444" stroke-width="1.2"/>
<text x="396" y="525.4" font-size="8" text-anchor="middle" fill="#000" stroke="#000">H3.1K27M</text>
<line x1="441.2" y1="516.2" x2="490" y2="516.2" stroke="#444" stroke-width="1.2"/>
<text x="465.6" y="525.4" font-size="8" text-anchor="middle" fill="#000" stroke="#000">H3.3K27M</text>
</svg></body></html>
